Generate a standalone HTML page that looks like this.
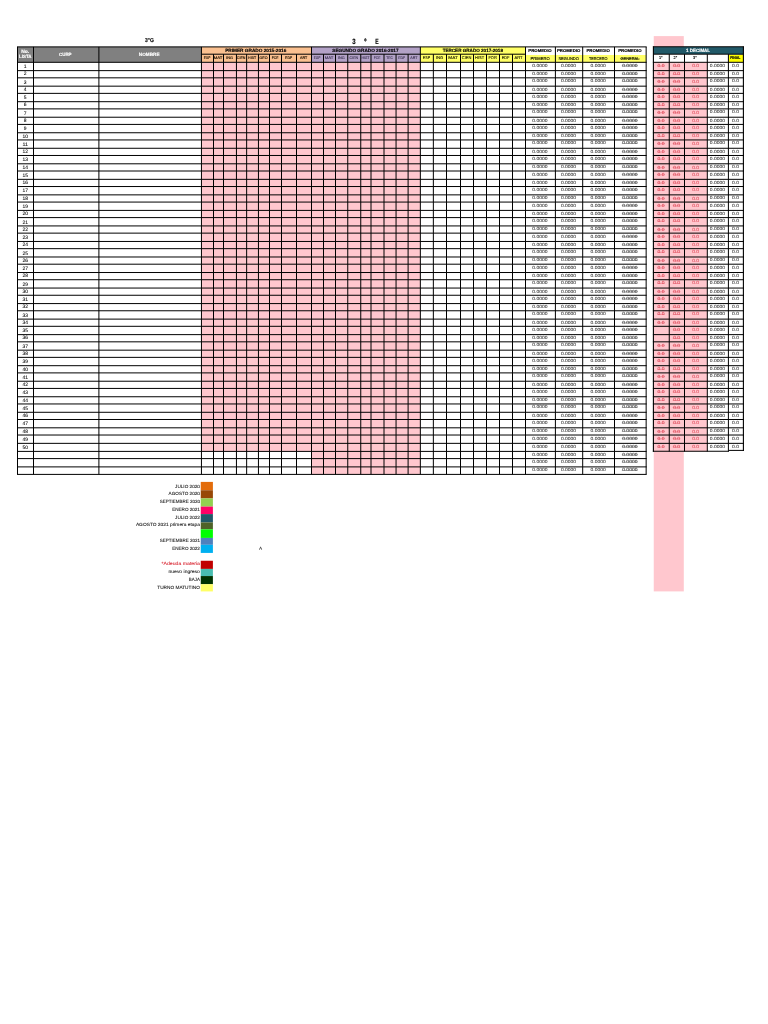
<!DOCTYPE html>
<html lang="es"><head><meta charset="utf-8"><title>3 E</title>
<style>
html,body{margin:0;padding:0;background:#fff}
body{width:768px;height:1024px;overflow:hidden}
svg{display:block}
svg text{font-family:"Liberation Sans",sans-serif;text-rendering:geometricPrecision;}
</style></head><body>
<svg width="768" height="1024" viewBox="0 0 768 1024">
<rect x="653.75" y="36.10" width="30.05" height="555.30" fill="#FFC7CE"/>
<rect x="17.50" y="46.90" width="183.95" height="15.40" fill="#808080"/>
<rect x="201.45" y="46.90" width="110.05" height="15.40" fill="#FAC090"/>
<rect x="311.50" y="46.90" width="108.85" height="15.40" fill="#B3A2C7"/>
<rect x="420.35" y="46.90" width="105.15" height="15.40" fill="#FFFF66"/>
<rect x="525.50" y="55.00" width="120.65" height="7.30" fill="#FFFF66"/>
<rect x="201.45" y="62.30" width="218.90" height="389.10" fill="#FFC7CE"/>
<rect x="311.50" y="451.40" width="108.85" height="23.00" fill="#FFC7CE"/>
<rect x="653.40" y="46.90" width="90.00" height="7.30" fill="#215968"/>
<rect x="653.40" y="54.20" width="75.00" height="8.10" fill="#fff"/>
<rect x="728.40" y="54.80" width="15.00" height="7.50" fill="#FFFF00"/>
<rect x="707.30" y="62.30" width="36.10" height="388.10" fill="#fff"/>
<rect x="653.40" y="62.30" width="53.90" height="389.10" fill="#FFC7CE"/>
<line x1="17.00" y1="62.30" x2="646.65" y2="62.30" stroke="#000" stroke-width="1.0"/>
<line x1="17.00" y1="70.63" x2="646.65" y2="70.63" stroke="#000" stroke-width="1.0"/>
<line x1="17.00" y1="77.83" x2="646.65" y2="77.83" stroke="#000" stroke-width="1.0"/>
<line x1="17.00" y1="86.16" x2="646.65" y2="86.16" stroke="#000" stroke-width="1.0"/>
<line x1="17.00" y1="93.36" x2="646.65" y2="93.36" stroke="#000" stroke-width="1.0"/>
<line x1="17.00" y1="101.69" x2="646.65" y2="101.69" stroke="#000" stroke-width="1.0"/>
<line x1="17.00" y1="108.89" x2="646.65" y2="108.89" stroke="#000" stroke-width="1.0"/>
<line x1="17.00" y1="117.22" x2="646.65" y2="117.22" stroke="#000" stroke-width="1.0"/>
<line x1="17.00" y1="124.42" x2="646.65" y2="124.42" stroke="#000" stroke-width="1.0"/>
<line x1="17.00" y1="132.75" x2="646.65" y2="132.75" stroke="#000" stroke-width="1.0"/>
<line x1="17.00" y1="139.95" x2="646.65" y2="139.95" stroke="#000" stroke-width="1.0"/>
<line x1="17.00" y1="148.28" x2="646.65" y2="148.28" stroke="#000" stroke-width="1.0"/>
<line x1="17.00" y1="155.48" x2="646.65" y2="155.48" stroke="#000" stroke-width="1.0"/>
<line x1="17.00" y1="163.81" x2="646.65" y2="163.81" stroke="#000" stroke-width="1.0"/>
<line x1="17.00" y1="171.01" x2="646.65" y2="171.01" stroke="#000" stroke-width="1.0"/>
<line x1="17.00" y1="179.34" x2="646.65" y2="179.34" stroke="#000" stroke-width="1.0"/>
<line x1="17.00" y1="186.54" x2="646.65" y2="186.54" stroke="#000" stroke-width="1.0"/>
<line x1="17.00" y1="194.87" x2="646.65" y2="194.87" stroke="#000" stroke-width="1.0"/>
<line x1="17.00" y1="202.07" x2="646.65" y2="202.07" stroke="#000" stroke-width="1.0"/>
<line x1="17.00" y1="210.40" x2="646.65" y2="210.40" stroke="#000" stroke-width="1.0"/>
<line x1="17.00" y1="217.60" x2="646.65" y2="217.60" stroke="#000" stroke-width="1.0"/>
<line x1="17.00" y1="225.93" x2="646.65" y2="225.93" stroke="#000" stroke-width="1.0"/>
<line x1="17.00" y1="233.13" x2="646.65" y2="233.13" stroke="#000" stroke-width="1.0"/>
<line x1="17.00" y1="241.46" x2="646.65" y2="241.46" stroke="#000" stroke-width="1.0"/>
<line x1="17.00" y1="248.66" x2="646.65" y2="248.66" stroke="#000" stroke-width="1.0"/>
<line x1="17.00" y1="256.99" x2="646.65" y2="256.99" stroke="#000" stroke-width="1.0"/>
<line x1="17.00" y1="264.19" x2="646.65" y2="264.19" stroke="#000" stroke-width="1.0"/>
<line x1="17.00" y1="272.52" x2="646.65" y2="272.52" stroke="#000" stroke-width="1.0"/>
<line x1="17.00" y1="279.72" x2="646.65" y2="279.72" stroke="#000" stroke-width="1.0"/>
<line x1="17.00" y1="288.05" x2="646.65" y2="288.05" stroke="#000" stroke-width="1.0"/>
<line x1="17.00" y1="295.25" x2="646.65" y2="295.25" stroke="#000" stroke-width="1.0"/>
<line x1="17.00" y1="303.58" x2="646.65" y2="303.58" stroke="#000" stroke-width="1.0"/>
<line x1="17.00" y1="310.78" x2="646.65" y2="310.78" stroke="#000" stroke-width="1.0"/>
<line x1="17.00" y1="319.11" x2="646.65" y2="319.11" stroke="#000" stroke-width="1.0"/>
<line x1="17.00" y1="326.31" x2="646.65" y2="326.31" stroke="#000" stroke-width="1.0"/>
<line x1="17.00" y1="334.64" x2="646.65" y2="334.64" stroke="#000" stroke-width="1.0"/>
<line x1="17.00" y1="341.84" x2="646.65" y2="341.84" stroke="#000" stroke-width="1.0"/>
<line x1="17.00" y1="350.17" x2="646.65" y2="350.17" stroke="#000" stroke-width="1.0"/>
<line x1="17.00" y1="357.37" x2="646.65" y2="357.37" stroke="#000" stroke-width="1.0"/>
<line x1="17.00" y1="365.70" x2="646.65" y2="365.70" stroke="#000" stroke-width="1.0"/>
<line x1="17.00" y1="372.90" x2="646.65" y2="372.90" stroke="#000" stroke-width="1.0"/>
<line x1="17.00" y1="381.23" x2="646.65" y2="381.23" stroke="#000" stroke-width="1.0"/>
<line x1="17.00" y1="388.43" x2="646.65" y2="388.43" stroke="#000" stroke-width="1.0"/>
<line x1="17.00" y1="396.76" x2="646.65" y2="396.76" stroke="#000" stroke-width="1.0"/>
<line x1="17.00" y1="403.96" x2="646.65" y2="403.96" stroke="#000" stroke-width="1.0"/>
<line x1="17.00" y1="412.29" x2="646.65" y2="412.29" stroke="#000" stroke-width="1.0"/>
<line x1="17.00" y1="419.49" x2="646.65" y2="419.49" stroke="#000" stroke-width="1.0"/>
<line x1="17.00" y1="427.82" x2="646.65" y2="427.82" stroke="#000" stroke-width="1.0"/>
<line x1="17.00" y1="435.02" x2="646.65" y2="435.02" stroke="#000" stroke-width="1.0"/>
<line x1="17.00" y1="443.35" x2="646.65" y2="443.35" stroke="#000" stroke-width="1.0"/>
<line x1="17.00" y1="451.40" x2="646.65" y2="451.40" stroke="#000" stroke-width="1.0"/>
<line x1="17.00" y1="458.60" x2="646.65" y2="458.60" stroke="#000" stroke-width="1.0"/>
<line x1="17.00" y1="466.90" x2="646.65" y2="466.90" stroke="#000" stroke-width="1.0"/>
<line x1="17.00" y1="474.40" x2="646.65" y2="474.40" stroke="#000" stroke-width="1.0"/>
<line x1="17.00" y1="46.90" x2="646.65" y2="46.90" stroke="#000" stroke-width="1.0"/>
<line x1="201.45" y1="54.20" x2="525.50" y2="54.20" stroke="#000" stroke-width="1.0"/>
<line x1="17.50" y1="46.90" x2="17.50" y2="474.40" stroke="#000" stroke-width="1.0"/>
<line x1="33.50" y1="46.90" x2="33.50" y2="474.40" stroke="#000" stroke-width="1.0"/>
<line x1="98.90" y1="46.90" x2="98.90" y2="474.40" stroke="#000" stroke-width="1.0"/>
<line x1="201.45" y1="46.90" x2="201.45" y2="474.40" stroke="#000" stroke-width="1.0"/>
<line x1="213.50" y1="54.20" x2="213.50" y2="474.40" stroke="#000" stroke-width="1.0"/>
<line x1="223.50" y1="54.20" x2="223.50" y2="474.40" stroke="#000" stroke-width="1.0"/>
<line x1="236.45" y1="54.20" x2="236.45" y2="474.40" stroke="#000" stroke-width="1.0"/>
<line x1="246.65" y1="54.20" x2="246.65" y2="474.40" stroke="#000" stroke-width="1.0"/>
<line x1="258.45" y1="54.20" x2="258.45" y2="474.40" stroke="#000" stroke-width="1.0"/>
<line x1="269.50" y1="54.20" x2="269.50" y2="474.40" stroke="#000" stroke-width="1.0"/>
<line x1="281.50" y1="54.20" x2="281.50" y2="474.40" stroke="#000" stroke-width="1.0"/>
<line x1="296.50" y1="54.20" x2="296.50" y2="474.40" stroke="#000" stroke-width="1.0"/>
<line x1="311.50" y1="46.90" x2="311.50" y2="474.40" stroke="#000" stroke-width="1.0"/>
<line x1="323.50" y1="54.20" x2="323.50" y2="474.40" stroke="#000" stroke-width="1.0"/>
<line x1="335.50" y1="54.20" x2="335.50" y2="474.40" stroke="#000" stroke-width="1.0"/>
<line x1="347.75" y1="54.20" x2="347.75" y2="474.40" stroke="#000" stroke-width="1.0"/>
<line x1="360.75" y1="54.20" x2="360.75" y2="474.40" stroke="#000" stroke-width="1.0"/>
<line x1="371.00" y1="54.20" x2="371.00" y2="474.40" stroke="#000" stroke-width="1.0"/>
<line x1="384.00" y1="54.20" x2="384.00" y2="474.40" stroke="#000" stroke-width="1.0"/>
<line x1="396.05" y1="54.20" x2="396.05" y2="474.40" stroke="#000" stroke-width="1.0"/>
<line x1="408.10" y1="54.20" x2="408.10" y2="474.40" stroke="#000" stroke-width="1.0"/>
<line x1="420.35" y1="46.90" x2="420.35" y2="474.40" stroke="#000" stroke-width="1.0"/>
<line x1="433.35" y1="54.20" x2="433.35" y2="474.40" stroke="#000" stroke-width="1.0"/>
<line x1="446.50" y1="54.20" x2="446.50" y2="474.40" stroke="#000" stroke-width="1.0"/>
<line x1="460.50" y1="54.20" x2="460.50" y2="474.40" stroke="#000" stroke-width="1.0"/>
<line x1="473.50" y1="54.20" x2="473.50" y2="474.40" stroke="#000" stroke-width="1.0"/>
<line x1="486.50" y1="54.20" x2="486.50" y2="474.40" stroke="#000" stroke-width="1.0"/>
<line x1="499.50" y1="54.20" x2="499.50" y2="474.40" stroke="#000" stroke-width="1.0"/>
<line x1="512.50" y1="54.20" x2="512.50" y2="474.40" stroke="#000" stroke-width="1.0"/>
<line x1="525.50" y1="46.90" x2="525.50" y2="474.40" stroke="#000" stroke-width="1.0"/>
<line x1="555.40" y1="46.90" x2="555.40" y2="474.40" stroke="#000" stroke-width="1.0"/>
<line x1="582.70" y1="46.90" x2="582.70" y2="474.40" stroke="#000" stroke-width="1.0"/>
<line x1="614.50" y1="46.90" x2="614.50" y2="474.40" stroke="#000" stroke-width="1.0"/>
<line x1="646.15" y1="46.90" x2="646.15" y2="474.40" stroke="#000" stroke-width="1.0"/>
<line x1="652.90" y1="62.30" x2="743.90" y2="62.30" stroke="#000" stroke-width="1.0"/>
<line x1="652.90" y1="70.63" x2="743.90" y2="70.63" stroke="#000" stroke-width="1.0"/>
<line x1="652.90" y1="77.83" x2="743.90" y2="77.83" stroke="#000" stroke-width="1.0"/>
<line x1="652.90" y1="86.16" x2="743.90" y2="86.16" stroke="#000" stroke-width="1.0"/>
<line x1="652.90" y1="93.36" x2="743.90" y2="93.36" stroke="#000" stroke-width="1.0"/>
<line x1="652.90" y1="101.69" x2="743.90" y2="101.69" stroke="#000" stroke-width="1.0"/>
<line x1="652.90" y1="108.89" x2="743.90" y2="108.89" stroke="#000" stroke-width="1.0"/>
<line x1="652.90" y1="117.22" x2="743.90" y2="117.22" stroke="#000" stroke-width="1.0"/>
<line x1="652.90" y1="124.42" x2="743.90" y2="124.42" stroke="#000" stroke-width="1.0"/>
<line x1="652.90" y1="132.75" x2="743.90" y2="132.75" stroke="#000" stroke-width="1.0"/>
<line x1="652.90" y1="139.95" x2="743.90" y2="139.95" stroke="#000" stroke-width="1.0"/>
<line x1="652.90" y1="148.28" x2="743.90" y2="148.28" stroke="#000" stroke-width="1.0"/>
<line x1="652.90" y1="155.48" x2="743.90" y2="155.48" stroke="#000" stroke-width="1.0"/>
<line x1="652.90" y1="163.81" x2="743.90" y2="163.81" stroke="#000" stroke-width="1.0"/>
<line x1="652.90" y1="171.01" x2="743.90" y2="171.01" stroke="#000" stroke-width="1.0"/>
<line x1="652.90" y1="179.34" x2="743.90" y2="179.34" stroke="#000" stroke-width="1.0"/>
<line x1="652.90" y1="186.54" x2="743.90" y2="186.54" stroke="#000" stroke-width="1.0"/>
<line x1="652.90" y1="194.87" x2="743.90" y2="194.87" stroke="#000" stroke-width="1.0"/>
<line x1="652.90" y1="202.07" x2="743.90" y2="202.07" stroke="#000" stroke-width="1.0"/>
<line x1="652.90" y1="210.40" x2="743.90" y2="210.40" stroke="#000" stroke-width="1.0"/>
<line x1="652.90" y1="217.60" x2="743.90" y2="217.60" stroke="#000" stroke-width="1.0"/>
<line x1="652.90" y1="225.93" x2="743.90" y2="225.93" stroke="#000" stroke-width="1.0"/>
<line x1="652.90" y1="233.13" x2="743.90" y2="233.13" stroke="#000" stroke-width="1.0"/>
<line x1="652.90" y1="241.46" x2="743.90" y2="241.46" stroke="#000" stroke-width="1.0"/>
<line x1="652.90" y1="248.66" x2="743.90" y2="248.66" stroke="#000" stroke-width="1.0"/>
<line x1="652.90" y1="256.99" x2="743.90" y2="256.99" stroke="#000" stroke-width="1.0"/>
<line x1="652.90" y1="264.19" x2="743.90" y2="264.19" stroke="#000" stroke-width="1.0"/>
<line x1="652.90" y1="272.52" x2="743.90" y2="272.52" stroke="#000" stroke-width="1.0"/>
<line x1="652.90" y1="279.72" x2="743.90" y2="279.72" stroke="#000" stroke-width="1.0"/>
<line x1="652.90" y1="288.05" x2="743.90" y2="288.05" stroke="#000" stroke-width="1.0"/>
<line x1="652.90" y1="295.25" x2="743.90" y2="295.25" stroke="#000" stroke-width="1.0"/>
<line x1="652.90" y1="303.58" x2="743.90" y2="303.58" stroke="#000" stroke-width="1.0"/>
<line x1="652.90" y1="310.78" x2="743.90" y2="310.78" stroke="#000" stroke-width="1.0"/>
<line x1="652.90" y1="319.11" x2="743.90" y2="319.11" stroke="#000" stroke-width="1.0"/>
<line x1="652.90" y1="326.31" x2="743.90" y2="326.31" stroke="#000" stroke-width="1.0"/>
<line x1="652.90" y1="334.64" x2="743.90" y2="334.64" stroke="#000" stroke-width="1.0"/>
<line x1="652.90" y1="341.84" x2="743.90" y2="341.84" stroke="#000" stroke-width="1.0"/>
<line x1="652.90" y1="350.17" x2="743.90" y2="350.17" stroke="#000" stroke-width="1.0"/>
<line x1="652.90" y1="357.37" x2="743.90" y2="357.37" stroke="#000" stroke-width="1.0"/>
<line x1="652.90" y1="365.70" x2="743.90" y2="365.70" stroke="#000" stroke-width="1.0"/>
<line x1="652.90" y1="372.90" x2="743.90" y2="372.90" stroke="#000" stroke-width="1.0"/>
<line x1="652.90" y1="381.23" x2="743.90" y2="381.23" stroke="#000" stroke-width="1.0"/>
<line x1="652.90" y1="388.43" x2="743.90" y2="388.43" stroke="#000" stroke-width="1.0"/>
<line x1="652.90" y1="396.76" x2="743.90" y2="396.76" stroke="#000" stroke-width="1.0"/>
<line x1="652.90" y1="403.96" x2="743.90" y2="403.96" stroke="#000" stroke-width="1.0"/>
<line x1="652.90" y1="412.29" x2="743.90" y2="412.29" stroke="#000" stroke-width="1.0"/>
<line x1="652.90" y1="419.49" x2="743.90" y2="419.49" stroke="#000" stroke-width="1.0"/>
<line x1="652.90" y1="427.82" x2="743.90" y2="427.82" stroke="#000" stroke-width="1.0"/>
<line x1="652.90" y1="435.02" x2="743.90" y2="435.02" stroke="#000" stroke-width="1.0"/>
<line x1="652.90" y1="443.35" x2="743.90" y2="443.35" stroke="#000" stroke-width="1.0"/>
<line x1="652.85" y1="451.30" x2="728.90" y2="451.30" stroke="#000" stroke-width="1.1"/>
<line x1="728.90" y1="450.40" x2="743.95" y2="450.40" stroke="#000" stroke-width="1.0"/>
<line x1="652.90" y1="46.75" x2="743.90" y2="46.75" stroke="#000" stroke-width="1.1"/>
<line x1="653.40" y1="54.20" x2="743.40" y2="54.20" stroke="#000" stroke-width="1.0"/>
<line x1="653.40" y1="46.40" x2="653.40" y2="451.80" stroke="#000" stroke-width="1.1"/>
<line x1="669.25" y1="54.20" x2="669.25" y2="451.50" stroke="#000" stroke-width="1.0"/>
<line x1="684.50" y1="54.20" x2="684.50" y2="451.50" stroke="#000" stroke-width="1.0"/>
<line x1="707.30" y1="54.20" x2="707.30" y2="451.50" stroke="#000" stroke-width="1.0"/>
<line x1="728.40" y1="54.20" x2="728.40" y2="451.50" stroke="#000" stroke-width="1.0"/>
<line x1="743.40" y1="46.40" x2="743.40" y2="450.90" stroke="#000" stroke-width="1.1"/>
<text x="149.45" y="42.10" font-size="5.8" font-weight="700" fill="#000" text-anchor="middle" textLength="8.70" lengthAdjust="spacingAndGlyphs" stroke="#000" stroke-width="0.15">3°G</text>
<text x="353.95" y="43.50" font-size="7.7" font-weight="700" fill="#000" text-anchor="middle" textLength="3.40" lengthAdjust="spacingAndGlyphs" stroke="#000" stroke-width="0.15">3</text>
<text x="365.50" y="44.90" font-size="9.4" font-weight="700" fill="#000" text-anchor="middle" textLength="2.30" lengthAdjust="spacingAndGlyphs" stroke="#000" stroke-width="0.4">°</text>
<text x="376.95" y="43.50" font-size="7.7" font-weight="700" fill="#000" text-anchor="middle" textLength="3.40" lengthAdjust="spacingAndGlyphs" stroke="#000" stroke-width="0.15">E</text>
<text x="25.20" y="52.70" font-size="4.62" font-weight="700" fill="#fff" text-anchor="middle" textLength="7.98" lengthAdjust="spacingAndGlyphs" stroke="#fff" stroke-width="0.15">No.</text>
<text x="25.30" y="57.90" font-size="4.62" font-weight="700" fill="#fff" text-anchor="middle" textLength="12.35" lengthAdjust="spacingAndGlyphs" stroke="#fff" stroke-width="0.15">LISTA</text>
<text x="65.30" y="56.00" font-size="4.62" font-weight="700" fill="#fff" text-anchor="middle" textLength="12.42" lengthAdjust="spacingAndGlyphs" stroke="#fff" stroke-width="0.15">CURP</text>
<text x="149.20" y="56.00" font-size="4.62" font-weight="700" fill="#fff" text-anchor="middle" textLength="20.85" lengthAdjust="spacingAndGlyphs" stroke="#fff" stroke-width="0.15">NOMBRE</text>
<text x="255.75" y="51.90" font-size="4.62" font-weight="700" fill="#000" text-anchor="middle" textLength="61.18" lengthAdjust="spacingAndGlyphs" stroke="#000" stroke-width="0.15">PRIMER GRADO 2015-2016</text>
<text x="365.45" y="51.90" font-size="4.62" font-weight="700" fill="#000" text-anchor="middle" textLength="66.25" lengthAdjust="spacingAndGlyphs" stroke="#000" stroke-width="0.15">SEGUNDO GRADO 2016-2017</text>
<text x="472.80" y="51.90" font-size="4.62" font-weight="700" fill="#000" text-anchor="middle" textLength="60.30" lengthAdjust="spacingAndGlyphs" stroke="#000" stroke-width="0.15">TERCER GRADO 2017-2018</text>
<text x="207.07" y="58.90" font-size="3.78" fill="#2a1a08" text-anchor="middle" textLength="6.54" lengthAdjust="spacingAndGlyphs" stroke="#2a1a08" stroke-width="0.18">ESP</text>
<text x="218.10" y="58.90" font-size="3.78" fill="#2a1a08" text-anchor="middle" textLength="8.58" lengthAdjust="spacingAndGlyphs" stroke="#2a1a08" stroke-width="0.18">MAT</text>
<text x="229.57" y="58.90" font-size="3.78" fill="#2a1a08" text-anchor="middle" textLength="6.83" lengthAdjust="spacingAndGlyphs" stroke="#2a1a08" stroke-width="0.18">ING</text>
<text x="241.15" y="58.90" font-size="3.78" fill="#2a1a08" text-anchor="middle" textLength="8.57" lengthAdjust="spacingAndGlyphs" stroke="#2a1a08" stroke-width="0.18">CIEN</text>
<text x="252.15" y="58.90" font-size="3.78" fill="#2a1a08" text-anchor="middle" textLength="8.13" lengthAdjust="spacingAndGlyphs" stroke="#2a1a08" stroke-width="0.18">HIST</text>
<text x="263.58" y="58.90" font-size="3.78" fill="#2a1a08" text-anchor="middle" textLength="7.95" lengthAdjust="spacingAndGlyphs" stroke="#2a1a08" stroke-width="0.18">GEO</text>
<text x="275.10" y="58.90" font-size="3.78" fill="#2a1a08" text-anchor="middle" textLength="6.61" lengthAdjust="spacingAndGlyphs" stroke="#2a1a08" stroke-width="0.18">FCE</text>
<text x="288.60" y="58.90" font-size="3.78" fill="#2a1a08" text-anchor="middle" textLength="6.97" lengthAdjust="spacingAndGlyphs" stroke="#2a1a08" stroke-width="0.18">EDF</text>
<text x="303.60" y="58.90" font-size="3.78" fill="#2a1a08" text-anchor="middle" textLength="7.18" lengthAdjust="spacingAndGlyphs" stroke="#2a1a08" stroke-width="0.18">ART</text>
<text x="317.10" y="58.90" font-size="3.78" fill="#3a3050" text-anchor="middle" textLength="6.54" lengthAdjust="spacingAndGlyphs" stroke="#3a3050" stroke-width="0.1">ESP</text>
<text x="329.10" y="58.90" font-size="3.78" fill="#3a3050" text-anchor="middle" textLength="8.58" lengthAdjust="spacingAndGlyphs" stroke="#3a3050" stroke-width="0.1">MAT</text>
<text x="341.23" y="58.90" font-size="3.78" fill="#3a3050" text-anchor="middle" textLength="6.83" lengthAdjust="spacingAndGlyphs" stroke="#3a3050" stroke-width="0.1">ING</text>
<text x="353.85" y="58.90" font-size="3.78" fill="#3a3050" text-anchor="middle" textLength="8.57" lengthAdjust="spacingAndGlyphs" stroke="#3a3050" stroke-width="0.1">CIEN</text>
<text x="365.48" y="58.90" font-size="3.78" fill="#3a3050" text-anchor="middle" textLength="8.13" lengthAdjust="spacingAndGlyphs" stroke="#3a3050" stroke-width="0.1">HIST</text>
<text x="377.10" y="58.90" font-size="3.78" fill="#3a3050" text-anchor="middle" textLength="6.61" lengthAdjust="spacingAndGlyphs" stroke="#3a3050" stroke-width="0.1">FCE</text>
<text x="389.62" y="58.90" font-size="3.78" fill="#3a3050" text-anchor="middle" textLength="6.73" lengthAdjust="spacingAndGlyphs" stroke="#3a3050" stroke-width="0.1">TEC</text>
<text x="401.68" y="58.90" font-size="3.78" fill="#3a3050" text-anchor="middle" textLength="6.97" lengthAdjust="spacingAndGlyphs" stroke="#3a3050" stroke-width="0.1">EDF</text>
<text x="413.83" y="58.90" font-size="3.78" fill="#3a3050" text-anchor="middle" textLength="7.18" lengthAdjust="spacingAndGlyphs" stroke="#3a3050" stroke-width="0.1">ART</text>
<text x="426.45" y="58.60" font-size="4.2" fill="#262600" text-anchor="middle" textLength="7.26" lengthAdjust="spacingAndGlyphs" stroke="#262600" stroke-width="0.12">ESP</text>
<text x="439.53" y="58.60" font-size="4.2" fill="#262600" text-anchor="middle" textLength="7.58" lengthAdjust="spacingAndGlyphs" stroke="#262600" stroke-width="0.12">ING</text>
<text x="453.10" y="58.60" font-size="4.2" fill="#262600" text-anchor="middle" textLength="9.53" lengthAdjust="spacingAndGlyphs" stroke="#262600" stroke-width="0.12">MAT</text>
<text x="466.60" y="58.60" font-size="4.2" fill="#262600" text-anchor="middle" textLength="9.52" lengthAdjust="spacingAndGlyphs" stroke="#262600" stroke-width="0.12">CIEN</text>
<text x="479.60" y="58.60" font-size="4.2" fill="#262600" text-anchor="middle" textLength="9.03" lengthAdjust="spacingAndGlyphs" stroke="#262600" stroke-width="0.12">HIST</text>
<text x="492.60" y="58.60" font-size="4.2" fill="#262600" text-anchor="middle" textLength="8.25" lengthAdjust="spacingAndGlyphs" stroke="#262600" stroke-width="0.12">FOR</text>
<text x="505.60" y="58.60" font-size="4.2" fill="#262600" text-anchor="middle" textLength="7.75" lengthAdjust="spacingAndGlyphs" stroke="#262600" stroke-width="0.12">EDF</text>
<text x="518.60" y="58.60" font-size="4.2" fill="#262600" text-anchor="middle" textLength="7.98" lengthAdjust="spacingAndGlyphs" stroke="#262600" stroke-width="0.12">ART</text>
<text x="540.05" y="51.90" font-size="4.2" font-weight="700" fill="#000" text-anchor="middle" textLength="23.34" lengthAdjust="spacingAndGlyphs" stroke="#000" stroke-width="0.15">PROMEDIO</text>
<text x="540.05" y="59.60" font-size="4.2" fill="#1a1a00" text-anchor="middle" textLength="19.15" lengthAdjust="spacingAndGlyphs" stroke="#1a1a00" stroke-width="0.15">PRIMERO</text>
<text x="568.65" y="51.90" font-size="4.2" font-weight="700" fill="#000" text-anchor="middle" textLength="23.34" lengthAdjust="spacingAndGlyphs" stroke="#000" stroke-width="0.15">PROMEDIO</text>
<text x="568.65" y="59.60" font-size="4.2" fill="#1a1a00" text-anchor="middle" textLength="20.55" lengthAdjust="spacingAndGlyphs" stroke="#1a1a00" stroke-width="0.15">SEGUNDO</text>
<text x="598.20" y="51.90" font-size="4.2" font-weight="700" fill="#000" text-anchor="middle" textLength="23.34" lengthAdjust="spacingAndGlyphs" stroke="#000" stroke-width="0.15">PROMEDIO</text>
<text x="598.20" y="59.60" font-size="4.2" fill="#1a1a00" text-anchor="middle" textLength="18.57" lengthAdjust="spacingAndGlyphs" stroke="#1a1a00" stroke-width="0.15">TERCERO</text>
<text x="629.93" y="51.90" font-size="4.2" font-weight="700" fill="#000" text-anchor="middle" textLength="23.34" lengthAdjust="spacingAndGlyphs" stroke="#000" stroke-width="0.15">PROMEDIO</text>
<text x="629.93" y="59.60" font-size="4.2" fill="#1a1a00" text-anchor="middle" textLength="18.82" lengthAdjust="spacingAndGlyphs" stroke="#1a1a00" stroke-width="0.15">GENERAL</text>
<line x1="620.06" y1="58.59" x2="639.79" y2="58.59" stroke="#1a1a00" stroke-width="0.32"/>
<text x="698.05" y="51.80" font-size="4.62" font-weight="700" fill="#fff" text-anchor="middle" textLength="23.90" lengthAdjust="spacingAndGlyphs" stroke="#fff" stroke-width="0.15">1 DECIMAL</text>
<text x="660.75" y="59.00" font-size="4.2" fill="#000" text-anchor="middle" textLength="3.70" lengthAdjust="spacingAndGlyphs" stroke="#000" stroke-width="0.15">1°</text>
<text x="675.40" y="59.00" font-size="4.2" fill="#000" text-anchor="middle" textLength="3.70" lengthAdjust="spacingAndGlyphs" stroke="#000" stroke-width="0.15">2°</text>
<text x="694.90" y="59.00" font-size="4.2" fill="#000" text-anchor="middle" textLength="3.70" lengthAdjust="spacingAndGlyphs" stroke="#000" stroke-width="0.15">3°</text>
<text x="735.30" y="58.90" font-size="3.9" font-weight="700" fill="#000" text-anchor="middle" textLength="10.18" lengthAdjust="spacingAndGlyphs" stroke="#000" stroke-width="0.15">FINAL</text>
<text x="25.20" y="68.23" font-size="4.9" fill="#000" text-anchor="middle" textLength="2.77" lengthAdjust="spacingAndGlyphs" stroke="#000" stroke-width="0.06">1</text>
<text x="539.95" y="66.80" font-size="4.6" fill="#0a0a0a" text-anchor="middle" textLength="15.21" lengthAdjust="spacingAndGlyphs">0.0000</text>
<text x="568.55" y="66.80" font-size="4.6" fill="#0a0a0a" text-anchor="middle" textLength="15.21" lengthAdjust="spacingAndGlyphs">0.0000</text>
<text x="598.10" y="66.80" font-size="4.6" fill="#0a0a0a" text-anchor="middle" textLength="15.21" lengthAdjust="spacingAndGlyphs">0.0000</text>
<text x="629.83" y="66.80" font-size="4.6" fill="#0a0a0a" text-anchor="middle" textLength="15.21" lengthAdjust="spacingAndGlyphs">0.0000</text>
<line x1="621.77" y1="65.70" x2="637.88" y2="65.70" stroke="#444" stroke-width="0.32"/>
<text x="661.03" y="67.00" font-size="4.6" fill="#d83042" text-anchor="middle" textLength="6.91" lengthAdjust="spacingAndGlyphs">0.0</text>
<line x1="657.12" y1="65.90" x2="664.93" y2="65.90" stroke="#d83042" stroke-width="0.32"/>
<text x="676.58" y="67.00" font-size="4.6" fill="#d83042" text-anchor="middle" textLength="6.91" lengthAdjust="spacingAndGlyphs">0.0</text>
<line x1="672.67" y1="65.90" x2="680.48" y2="65.90" stroke="#d83042" stroke-width="0.32"/>
<text x="695.60" y="67.00" font-size="4.6" fill="#d83042" text-anchor="middle" textLength="6.91" lengthAdjust="spacingAndGlyphs">0.0</text>
<text x="717.45" y="66.80" font-size="4.6" fill="#0a0a0a" text-anchor="middle" textLength="15.21" lengthAdjust="spacingAndGlyphs">0.0000</text>
<text x="735.50" y="66.80" font-size="4.6" fill="#0a0a0a" text-anchor="middle" textLength="6.91" lengthAdjust="spacingAndGlyphs">0.0</text>
<text x="25.20" y="75.43" font-size="4.9" fill="#000" text-anchor="middle" textLength="2.77" lengthAdjust="spacingAndGlyphs" stroke="#000" stroke-width="0.06">2</text>
<text x="539.95" y="75.13" font-size="4.6" fill="#0a0a0a" text-anchor="middle" textLength="15.21" lengthAdjust="spacingAndGlyphs">0.0000</text>
<text x="568.55" y="75.13" font-size="4.6" fill="#0a0a0a" text-anchor="middle" textLength="15.21" lengthAdjust="spacingAndGlyphs">0.0000</text>
<text x="598.10" y="75.13" font-size="4.6" fill="#0a0a0a" text-anchor="middle" textLength="15.21" lengthAdjust="spacingAndGlyphs">0.0000</text>
<text x="629.83" y="75.13" font-size="4.6" fill="#0a0a0a" text-anchor="middle" textLength="15.21" lengthAdjust="spacingAndGlyphs">0.0000</text>
<line x1="621.77" y1="74.03" x2="637.88" y2="74.03" stroke="#444" stroke-width="0.32"/>
<text x="661.03" y="75.33" font-size="4.6" fill="#d83042" text-anchor="middle" textLength="6.91" lengthAdjust="spacingAndGlyphs">0.0</text>
<line x1="657.12" y1="74.23" x2="664.93" y2="74.23" stroke="#d83042" stroke-width="0.32"/>
<text x="676.58" y="75.33" font-size="4.6" fill="#d83042" text-anchor="middle" textLength="6.91" lengthAdjust="spacingAndGlyphs">0.0</text>
<line x1="672.67" y1="74.23" x2="680.48" y2="74.23" stroke="#d83042" stroke-width="0.32"/>
<text x="695.60" y="75.33" font-size="4.6" fill="#d83042" text-anchor="middle" textLength="6.91" lengthAdjust="spacingAndGlyphs">0.0</text>
<text x="717.45" y="75.13" font-size="4.6" fill="#0a0a0a" text-anchor="middle" textLength="15.21" lengthAdjust="spacingAndGlyphs">0.0000</text>
<text x="735.50" y="75.13" font-size="4.6" fill="#0a0a0a" text-anchor="middle" textLength="6.91" lengthAdjust="spacingAndGlyphs">0.0</text>
<text x="25.20" y="83.76" font-size="4.9" fill="#000" text-anchor="middle" textLength="2.77" lengthAdjust="spacingAndGlyphs" stroke="#000" stroke-width="0.06">3</text>
<text x="539.95" y="82.33" font-size="4.6" fill="#0a0a0a" text-anchor="middle" textLength="15.21" lengthAdjust="spacingAndGlyphs">0.0000</text>
<text x="568.55" y="82.33" font-size="4.6" fill="#0a0a0a" text-anchor="middle" textLength="15.21" lengthAdjust="spacingAndGlyphs">0.0000</text>
<text x="598.10" y="82.33" font-size="4.6" fill="#0a0a0a" text-anchor="middle" textLength="15.21" lengthAdjust="spacingAndGlyphs">0.0000</text>
<text x="629.83" y="82.33" font-size="4.6" fill="#0a0a0a" text-anchor="middle" textLength="15.21" lengthAdjust="spacingAndGlyphs">0.0000</text>
<line x1="621.77" y1="81.23" x2="637.88" y2="81.23" stroke="#444" stroke-width="0.32"/>
<text x="661.03" y="82.53" font-size="4.6" fill="#d83042" text-anchor="middle" textLength="6.91" lengthAdjust="spacingAndGlyphs">0.0</text>
<line x1="657.12" y1="81.43" x2="664.93" y2="81.43" stroke="#d83042" stroke-width="0.32"/>
<text x="676.58" y="82.53" font-size="4.6" fill="#d83042" text-anchor="middle" textLength="6.91" lengthAdjust="spacingAndGlyphs">0.0</text>
<line x1="672.67" y1="81.43" x2="680.48" y2="81.43" stroke="#d83042" stroke-width="0.32"/>
<text x="695.60" y="82.53" font-size="4.6" fill="#d83042" text-anchor="middle" textLength="6.91" lengthAdjust="spacingAndGlyphs">0.0</text>
<text x="717.45" y="82.33" font-size="4.6" fill="#0a0a0a" text-anchor="middle" textLength="15.21" lengthAdjust="spacingAndGlyphs">0.0000</text>
<text x="735.50" y="82.33" font-size="4.6" fill="#0a0a0a" text-anchor="middle" textLength="6.91" lengthAdjust="spacingAndGlyphs">0.0</text>
<text x="25.20" y="90.96" font-size="4.9" fill="#000" text-anchor="middle" textLength="2.77" lengthAdjust="spacingAndGlyphs" stroke="#000" stroke-width="0.06">4</text>
<text x="539.95" y="90.66" font-size="4.6" fill="#0a0a0a" text-anchor="middle" textLength="15.21" lengthAdjust="spacingAndGlyphs">0.0000</text>
<text x="568.55" y="90.66" font-size="4.6" fill="#0a0a0a" text-anchor="middle" textLength="15.21" lengthAdjust="spacingAndGlyphs">0.0000</text>
<text x="598.10" y="90.66" font-size="4.6" fill="#0a0a0a" text-anchor="middle" textLength="15.21" lengthAdjust="spacingAndGlyphs">0.0000</text>
<text x="629.83" y="90.66" font-size="4.6" fill="#0a0a0a" text-anchor="middle" textLength="15.21" lengthAdjust="spacingAndGlyphs">0.0000</text>
<line x1="621.77" y1="89.56" x2="637.88" y2="89.56" stroke="#444" stroke-width="0.32"/>
<text x="661.03" y="90.86" font-size="4.6" fill="#d83042" text-anchor="middle" textLength="6.91" lengthAdjust="spacingAndGlyphs">0.0</text>
<line x1="657.12" y1="89.76" x2="664.93" y2="89.76" stroke="#d83042" stroke-width="0.32"/>
<text x="676.58" y="90.86" font-size="4.6" fill="#d83042" text-anchor="middle" textLength="6.91" lengthAdjust="spacingAndGlyphs">0.0</text>
<line x1="672.67" y1="89.76" x2="680.48" y2="89.76" stroke="#d83042" stroke-width="0.32"/>
<text x="695.60" y="90.86" font-size="4.6" fill="#d83042" text-anchor="middle" textLength="6.91" lengthAdjust="spacingAndGlyphs">0.0</text>
<text x="717.45" y="90.66" font-size="4.6" fill="#0a0a0a" text-anchor="middle" textLength="15.21" lengthAdjust="spacingAndGlyphs">0.0000</text>
<text x="735.50" y="90.66" font-size="4.6" fill="#0a0a0a" text-anchor="middle" textLength="6.91" lengthAdjust="spacingAndGlyphs">0.0</text>
<text x="25.20" y="99.29" font-size="4.9" fill="#000" text-anchor="middle" textLength="2.77" lengthAdjust="spacingAndGlyphs" stroke="#000" stroke-width="0.06">5</text>
<text x="539.95" y="97.86" font-size="4.6" fill="#0a0a0a" text-anchor="middle" textLength="15.21" lengthAdjust="spacingAndGlyphs">0.0000</text>
<text x="568.55" y="97.86" font-size="4.6" fill="#0a0a0a" text-anchor="middle" textLength="15.21" lengthAdjust="spacingAndGlyphs">0.0000</text>
<text x="598.10" y="97.86" font-size="4.6" fill="#0a0a0a" text-anchor="middle" textLength="15.21" lengthAdjust="spacingAndGlyphs">0.0000</text>
<text x="629.83" y="97.86" font-size="4.6" fill="#0a0a0a" text-anchor="middle" textLength="15.21" lengthAdjust="spacingAndGlyphs">0.0000</text>
<line x1="621.77" y1="96.76" x2="637.88" y2="96.76" stroke="#444" stroke-width="0.32"/>
<text x="661.03" y="98.06" font-size="4.6" fill="#d83042" text-anchor="middle" textLength="6.91" lengthAdjust="spacingAndGlyphs">0.0</text>
<line x1="657.12" y1="96.96" x2="664.93" y2="96.96" stroke="#d83042" stroke-width="0.32"/>
<text x="676.58" y="98.06" font-size="4.6" fill="#d83042" text-anchor="middle" textLength="6.91" lengthAdjust="spacingAndGlyphs">0.0</text>
<line x1="672.67" y1="96.96" x2="680.48" y2="96.96" stroke="#d83042" stroke-width="0.32"/>
<text x="695.60" y="98.06" font-size="4.6" fill="#d83042" text-anchor="middle" textLength="6.91" lengthAdjust="spacingAndGlyphs">0.0</text>
<text x="717.45" y="97.86" font-size="4.6" fill="#0a0a0a" text-anchor="middle" textLength="15.21" lengthAdjust="spacingAndGlyphs">0.0000</text>
<text x="735.50" y="97.86" font-size="4.6" fill="#0a0a0a" text-anchor="middle" textLength="6.91" lengthAdjust="spacingAndGlyphs">0.0</text>
<text x="25.20" y="106.49" font-size="4.9" fill="#000" text-anchor="middle" textLength="2.77" lengthAdjust="spacingAndGlyphs" stroke="#000" stroke-width="0.06">6</text>
<text x="539.95" y="106.19" font-size="4.6" fill="#0a0a0a" text-anchor="middle" textLength="15.21" lengthAdjust="spacingAndGlyphs">0.0000</text>
<text x="568.55" y="106.19" font-size="4.6" fill="#0a0a0a" text-anchor="middle" textLength="15.21" lengthAdjust="spacingAndGlyphs">0.0000</text>
<text x="598.10" y="106.19" font-size="4.6" fill="#0a0a0a" text-anchor="middle" textLength="15.21" lengthAdjust="spacingAndGlyphs">0.0000</text>
<text x="629.83" y="106.19" font-size="4.6" fill="#0a0a0a" text-anchor="middle" textLength="15.21" lengthAdjust="spacingAndGlyphs">0.0000</text>
<line x1="621.77" y1="105.09" x2="637.88" y2="105.09" stroke="#444" stroke-width="0.32"/>
<text x="661.03" y="106.39" font-size="4.6" fill="#d83042" text-anchor="middle" textLength="6.91" lengthAdjust="spacingAndGlyphs">0.0</text>
<line x1="657.12" y1="105.29" x2="664.93" y2="105.29" stroke="#d83042" stroke-width="0.32"/>
<text x="676.58" y="106.39" font-size="4.6" fill="#d83042" text-anchor="middle" textLength="6.91" lengthAdjust="spacingAndGlyphs">0.0</text>
<line x1="672.67" y1="105.29" x2="680.48" y2="105.29" stroke="#d83042" stroke-width="0.32"/>
<text x="695.60" y="106.39" font-size="4.6" fill="#d83042" text-anchor="middle" textLength="6.91" lengthAdjust="spacingAndGlyphs">0.0</text>
<text x="717.45" y="106.19" font-size="4.6" fill="#0a0a0a" text-anchor="middle" textLength="15.21" lengthAdjust="spacingAndGlyphs">0.0000</text>
<text x="735.50" y="106.19" font-size="4.6" fill="#0a0a0a" text-anchor="middle" textLength="6.91" lengthAdjust="spacingAndGlyphs">0.0</text>
<text x="25.20" y="114.82" font-size="4.9" fill="#000" text-anchor="middle" textLength="2.77" lengthAdjust="spacingAndGlyphs" stroke="#000" stroke-width="0.06">7</text>
<text x="539.95" y="113.39" font-size="4.6" fill="#0a0a0a" text-anchor="middle" textLength="15.21" lengthAdjust="spacingAndGlyphs">0.0000</text>
<text x="568.55" y="113.39" font-size="4.6" fill="#0a0a0a" text-anchor="middle" textLength="15.21" lengthAdjust="spacingAndGlyphs">0.0000</text>
<text x="598.10" y="113.39" font-size="4.6" fill="#0a0a0a" text-anchor="middle" textLength="15.21" lengthAdjust="spacingAndGlyphs">0.0000</text>
<text x="629.83" y="113.39" font-size="4.6" fill="#0a0a0a" text-anchor="middle" textLength="15.21" lengthAdjust="spacingAndGlyphs">0.0000</text>
<line x1="621.77" y1="112.29" x2="637.88" y2="112.29" stroke="#444" stroke-width="0.32"/>
<text x="661.03" y="113.59" font-size="4.6" fill="#d83042" text-anchor="middle" textLength="6.91" lengthAdjust="spacingAndGlyphs">0.0</text>
<line x1="657.12" y1="112.49" x2="664.93" y2="112.49" stroke="#d83042" stroke-width="0.32"/>
<text x="676.58" y="113.59" font-size="4.6" fill="#d83042" text-anchor="middle" textLength="6.91" lengthAdjust="spacingAndGlyphs">0.0</text>
<line x1="672.67" y1="112.49" x2="680.48" y2="112.49" stroke="#d83042" stroke-width="0.32"/>
<text x="695.60" y="113.59" font-size="4.6" fill="#d83042" text-anchor="middle" textLength="6.91" lengthAdjust="spacingAndGlyphs">0.0</text>
<text x="717.45" y="113.39" font-size="4.6" fill="#0a0a0a" text-anchor="middle" textLength="15.21" lengthAdjust="spacingAndGlyphs">0.0000</text>
<text x="735.50" y="113.39" font-size="4.6" fill="#0a0a0a" text-anchor="middle" textLength="6.91" lengthAdjust="spacingAndGlyphs">0.0</text>
<text x="25.20" y="122.02" font-size="4.9" fill="#000" text-anchor="middle" textLength="2.77" lengthAdjust="spacingAndGlyphs" stroke="#000" stroke-width="0.06">8</text>
<text x="539.95" y="121.72" font-size="4.6" fill="#0a0a0a" text-anchor="middle" textLength="15.21" lengthAdjust="spacingAndGlyphs">0.0000</text>
<text x="568.55" y="121.72" font-size="4.6" fill="#0a0a0a" text-anchor="middle" textLength="15.21" lengthAdjust="spacingAndGlyphs">0.0000</text>
<text x="598.10" y="121.72" font-size="4.6" fill="#0a0a0a" text-anchor="middle" textLength="15.21" lengthAdjust="spacingAndGlyphs">0.0000</text>
<text x="629.83" y="121.72" font-size="4.6" fill="#0a0a0a" text-anchor="middle" textLength="15.21" lengthAdjust="spacingAndGlyphs">0.0000</text>
<line x1="621.77" y1="120.62" x2="637.88" y2="120.62" stroke="#444" stroke-width="0.32"/>
<text x="661.03" y="121.92" font-size="4.6" fill="#d83042" text-anchor="middle" textLength="6.91" lengthAdjust="spacingAndGlyphs">0.0</text>
<line x1="657.12" y1="120.82" x2="664.93" y2="120.82" stroke="#d83042" stroke-width="0.32"/>
<text x="676.58" y="121.92" font-size="4.6" fill="#d83042" text-anchor="middle" textLength="6.91" lengthAdjust="spacingAndGlyphs">0.0</text>
<line x1="672.67" y1="120.82" x2="680.48" y2="120.82" stroke="#d83042" stroke-width="0.32"/>
<text x="695.60" y="121.92" font-size="4.6" fill="#d83042" text-anchor="middle" textLength="6.91" lengthAdjust="spacingAndGlyphs">0.0</text>
<text x="717.45" y="121.72" font-size="4.6" fill="#0a0a0a" text-anchor="middle" textLength="15.21" lengthAdjust="spacingAndGlyphs">0.0000</text>
<text x="735.50" y="121.72" font-size="4.6" fill="#0a0a0a" text-anchor="middle" textLength="6.91" lengthAdjust="spacingAndGlyphs">0.0</text>
<text x="25.20" y="130.35" font-size="4.9" fill="#000" text-anchor="middle" textLength="2.77" lengthAdjust="spacingAndGlyphs" stroke="#000" stroke-width="0.06">9</text>
<text x="539.95" y="128.92" font-size="4.6" fill="#0a0a0a" text-anchor="middle" textLength="15.21" lengthAdjust="spacingAndGlyphs">0.0000</text>
<text x="568.55" y="128.92" font-size="4.6" fill="#0a0a0a" text-anchor="middle" textLength="15.21" lengthAdjust="spacingAndGlyphs">0.0000</text>
<text x="598.10" y="128.92" font-size="4.6" fill="#0a0a0a" text-anchor="middle" textLength="15.21" lengthAdjust="spacingAndGlyphs">0.0000</text>
<text x="629.83" y="128.92" font-size="4.6" fill="#0a0a0a" text-anchor="middle" textLength="15.21" lengthAdjust="spacingAndGlyphs">0.0000</text>
<line x1="621.77" y1="127.82" x2="637.88" y2="127.82" stroke="#444" stroke-width="0.32"/>
<text x="661.03" y="129.12" font-size="4.6" fill="#d83042" text-anchor="middle" textLength="6.91" lengthAdjust="spacingAndGlyphs">0.0</text>
<line x1="657.12" y1="128.02" x2="664.93" y2="128.02" stroke="#d83042" stroke-width="0.32"/>
<text x="676.58" y="129.12" font-size="4.6" fill="#d83042" text-anchor="middle" textLength="6.91" lengthAdjust="spacingAndGlyphs">0.0</text>
<line x1="672.67" y1="128.02" x2="680.48" y2="128.02" stroke="#d83042" stroke-width="0.32"/>
<text x="695.60" y="129.12" font-size="4.6" fill="#d83042" text-anchor="middle" textLength="6.91" lengthAdjust="spacingAndGlyphs">0.0</text>
<text x="717.45" y="128.92" font-size="4.6" fill="#0a0a0a" text-anchor="middle" textLength="15.21" lengthAdjust="spacingAndGlyphs">0.0000</text>
<text x="735.50" y="128.92" font-size="4.6" fill="#0a0a0a" text-anchor="middle" textLength="6.91" lengthAdjust="spacingAndGlyphs">0.0</text>
<text x="25.20" y="137.55" font-size="4.9" fill="#000" text-anchor="middle" textLength="5.53" lengthAdjust="spacingAndGlyphs" stroke="#000" stroke-width="0.06">10</text>
<text x="539.95" y="137.25" font-size="4.6" fill="#0a0a0a" text-anchor="middle" textLength="15.21" lengthAdjust="spacingAndGlyphs">0.0000</text>
<text x="568.55" y="137.25" font-size="4.6" fill="#0a0a0a" text-anchor="middle" textLength="15.21" lengthAdjust="spacingAndGlyphs">0.0000</text>
<text x="598.10" y="137.25" font-size="4.6" fill="#0a0a0a" text-anchor="middle" textLength="15.21" lengthAdjust="spacingAndGlyphs">0.0000</text>
<text x="629.83" y="137.25" font-size="4.6" fill="#0a0a0a" text-anchor="middle" textLength="15.21" lengthAdjust="spacingAndGlyphs">0.0000</text>
<line x1="621.77" y1="136.15" x2="637.88" y2="136.15" stroke="#444" stroke-width="0.32"/>
<text x="661.03" y="137.45" font-size="4.6" fill="#d83042" text-anchor="middle" textLength="6.91" lengthAdjust="spacingAndGlyphs">0.0</text>
<line x1="657.12" y1="136.35" x2="664.93" y2="136.35" stroke="#d83042" stroke-width="0.32"/>
<text x="676.58" y="137.45" font-size="4.6" fill="#d83042" text-anchor="middle" textLength="6.91" lengthAdjust="spacingAndGlyphs">0.0</text>
<line x1="672.67" y1="136.35" x2="680.48" y2="136.35" stroke="#d83042" stroke-width="0.32"/>
<text x="695.60" y="137.45" font-size="4.6" fill="#d83042" text-anchor="middle" textLength="6.91" lengthAdjust="spacingAndGlyphs">0.0</text>
<text x="717.45" y="137.25" font-size="4.6" fill="#0a0a0a" text-anchor="middle" textLength="15.21" lengthAdjust="spacingAndGlyphs">0.0000</text>
<text x="735.50" y="137.25" font-size="4.6" fill="#0a0a0a" text-anchor="middle" textLength="6.91" lengthAdjust="spacingAndGlyphs">0.0</text>
<text x="25.20" y="145.88" font-size="4.9" fill="#000" text-anchor="middle" textLength="5.53" lengthAdjust="spacingAndGlyphs" stroke="#000" stroke-width="0.06">11</text>
<text x="539.95" y="144.45" font-size="4.6" fill="#0a0a0a" text-anchor="middle" textLength="15.21" lengthAdjust="spacingAndGlyphs">0.0000</text>
<text x="568.55" y="144.45" font-size="4.6" fill="#0a0a0a" text-anchor="middle" textLength="15.21" lengthAdjust="spacingAndGlyphs">0.0000</text>
<text x="598.10" y="144.45" font-size="4.6" fill="#0a0a0a" text-anchor="middle" textLength="15.21" lengthAdjust="spacingAndGlyphs">0.0000</text>
<text x="629.83" y="144.45" font-size="4.6" fill="#0a0a0a" text-anchor="middle" textLength="15.21" lengthAdjust="spacingAndGlyphs">0.0000</text>
<line x1="621.77" y1="143.35" x2="637.88" y2="143.35" stroke="#444" stroke-width="0.32"/>
<text x="661.03" y="144.65" font-size="4.6" fill="#d83042" text-anchor="middle" textLength="6.91" lengthAdjust="spacingAndGlyphs">0.0</text>
<line x1="657.12" y1="143.55" x2="664.93" y2="143.55" stroke="#d83042" stroke-width="0.32"/>
<text x="676.58" y="144.65" font-size="4.6" fill="#d83042" text-anchor="middle" textLength="6.91" lengthAdjust="spacingAndGlyphs">0.0</text>
<line x1="672.67" y1="143.55" x2="680.48" y2="143.55" stroke="#d83042" stroke-width="0.32"/>
<text x="695.60" y="144.65" font-size="4.6" fill="#d83042" text-anchor="middle" textLength="6.91" lengthAdjust="spacingAndGlyphs">0.0</text>
<text x="717.45" y="144.45" font-size="4.6" fill="#0a0a0a" text-anchor="middle" textLength="15.21" lengthAdjust="spacingAndGlyphs">0.0000</text>
<text x="735.50" y="144.45" font-size="4.6" fill="#0a0a0a" text-anchor="middle" textLength="6.91" lengthAdjust="spacingAndGlyphs">0.0</text>
<text x="25.20" y="153.08" font-size="4.9" fill="#000" text-anchor="middle" textLength="5.53" lengthAdjust="spacingAndGlyphs" stroke="#000" stroke-width="0.06">12</text>
<text x="539.95" y="152.78" font-size="4.6" fill="#0a0a0a" text-anchor="middle" textLength="15.21" lengthAdjust="spacingAndGlyphs">0.0000</text>
<text x="568.55" y="152.78" font-size="4.6" fill="#0a0a0a" text-anchor="middle" textLength="15.21" lengthAdjust="spacingAndGlyphs">0.0000</text>
<text x="598.10" y="152.78" font-size="4.6" fill="#0a0a0a" text-anchor="middle" textLength="15.21" lengthAdjust="spacingAndGlyphs">0.0000</text>
<text x="629.83" y="152.78" font-size="4.6" fill="#0a0a0a" text-anchor="middle" textLength="15.21" lengthAdjust="spacingAndGlyphs">0.0000</text>
<line x1="621.77" y1="151.68" x2="637.88" y2="151.68" stroke="#444" stroke-width="0.32"/>
<text x="661.03" y="152.98" font-size="4.6" fill="#d83042" text-anchor="middle" textLength="6.91" lengthAdjust="spacingAndGlyphs">0.0</text>
<line x1="657.12" y1="151.88" x2="664.93" y2="151.88" stroke="#d83042" stroke-width="0.32"/>
<text x="676.58" y="152.98" font-size="4.6" fill="#d83042" text-anchor="middle" textLength="6.91" lengthAdjust="spacingAndGlyphs">0.0</text>
<line x1="672.67" y1="151.88" x2="680.48" y2="151.88" stroke="#d83042" stroke-width="0.32"/>
<text x="695.60" y="152.98" font-size="4.6" fill="#d83042" text-anchor="middle" textLength="6.91" lengthAdjust="spacingAndGlyphs">0.0</text>
<text x="717.45" y="152.78" font-size="4.6" fill="#0a0a0a" text-anchor="middle" textLength="15.21" lengthAdjust="spacingAndGlyphs">0.0000</text>
<text x="735.50" y="152.78" font-size="4.6" fill="#0a0a0a" text-anchor="middle" textLength="6.91" lengthAdjust="spacingAndGlyphs">0.0</text>
<text x="25.20" y="161.41" font-size="4.9" fill="#000" text-anchor="middle" textLength="5.53" lengthAdjust="spacingAndGlyphs" stroke="#000" stroke-width="0.06">13</text>
<text x="539.95" y="159.98" font-size="4.6" fill="#0a0a0a" text-anchor="middle" textLength="15.21" lengthAdjust="spacingAndGlyphs">0.0000</text>
<text x="568.55" y="159.98" font-size="4.6" fill="#0a0a0a" text-anchor="middle" textLength="15.21" lengthAdjust="spacingAndGlyphs">0.0000</text>
<text x="598.10" y="159.98" font-size="4.6" fill="#0a0a0a" text-anchor="middle" textLength="15.21" lengthAdjust="spacingAndGlyphs">0.0000</text>
<text x="629.83" y="159.98" font-size="4.6" fill="#0a0a0a" text-anchor="middle" textLength="15.21" lengthAdjust="spacingAndGlyphs">0.0000</text>
<line x1="621.77" y1="158.88" x2="637.88" y2="158.88" stroke="#444" stroke-width="0.32"/>
<text x="661.03" y="160.18" font-size="4.6" fill="#d83042" text-anchor="middle" textLength="6.91" lengthAdjust="spacingAndGlyphs">0.0</text>
<line x1="657.12" y1="159.08" x2="664.93" y2="159.08" stroke="#d83042" stroke-width="0.32"/>
<text x="676.58" y="160.18" font-size="4.6" fill="#d83042" text-anchor="middle" textLength="6.91" lengthAdjust="spacingAndGlyphs">0.0</text>
<line x1="672.67" y1="159.08" x2="680.48" y2="159.08" stroke="#d83042" stroke-width="0.32"/>
<text x="695.60" y="160.18" font-size="4.6" fill="#d83042" text-anchor="middle" textLength="6.91" lengthAdjust="spacingAndGlyphs">0.0</text>
<text x="717.45" y="159.98" font-size="4.6" fill="#0a0a0a" text-anchor="middle" textLength="15.21" lengthAdjust="spacingAndGlyphs">0.0000</text>
<text x="735.50" y="159.98" font-size="4.6" fill="#0a0a0a" text-anchor="middle" textLength="6.91" lengthAdjust="spacingAndGlyphs">0.0</text>
<text x="25.20" y="168.61" font-size="4.9" fill="#000" text-anchor="middle" textLength="5.53" lengthAdjust="spacingAndGlyphs" stroke="#000" stroke-width="0.06">14</text>
<text x="539.95" y="168.31" font-size="4.6" fill="#0a0a0a" text-anchor="middle" textLength="15.21" lengthAdjust="spacingAndGlyphs">0.0000</text>
<text x="568.55" y="168.31" font-size="4.6" fill="#0a0a0a" text-anchor="middle" textLength="15.21" lengthAdjust="spacingAndGlyphs">0.0000</text>
<text x="598.10" y="168.31" font-size="4.6" fill="#0a0a0a" text-anchor="middle" textLength="15.21" lengthAdjust="spacingAndGlyphs">0.0000</text>
<text x="629.83" y="168.31" font-size="4.6" fill="#0a0a0a" text-anchor="middle" textLength="15.21" lengthAdjust="spacingAndGlyphs">0.0000</text>
<line x1="621.77" y1="167.21" x2="637.88" y2="167.21" stroke="#444" stroke-width="0.32"/>
<text x="661.03" y="168.51" font-size="4.6" fill="#d83042" text-anchor="middle" textLength="6.91" lengthAdjust="spacingAndGlyphs">0.0</text>
<line x1="657.12" y1="167.41" x2="664.93" y2="167.41" stroke="#d83042" stroke-width="0.32"/>
<text x="676.58" y="168.51" font-size="4.6" fill="#d83042" text-anchor="middle" textLength="6.91" lengthAdjust="spacingAndGlyphs">0.0</text>
<line x1="672.67" y1="167.41" x2="680.48" y2="167.41" stroke="#d83042" stroke-width="0.32"/>
<text x="695.60" y="168.51" font-size="4.6" fill="#d83042" text-anchor="middle" textLength="6.91" lengthAdjust="spacingAndGlyphs">0.0</text>
<text x="717.45" y="168.31" font-size="4.6" fill="#0a0a0a" text-anchor="middle" textLength="15.21" lengthAdjust="spacingAndGlyphs">0.0000</text>
<text x="735.50" y="168.31" font-size="4.6" fill="#0a0a0a" text-anchor="middle" textLength="6.91" lengthAdjust="spacingAndGlyphs">0.0</text>
<text x="25.20" y="176.94" font-size="4.9" fill="#000" text-anchor="middle" textLength="5.53" lengthAdjust="spacingAndGlyphs" stroke="#000" stroke-width="0.06">15</text>
<text x="539.95" y="175.51" font-size="4.6" fill="#0a0a0a" text-anchor="middle" textLength="15.21" lengthAdjust="spacingAndGlyphs">0.0000</text>
<text x="568.55" y="175.51" font-size="4.6" fill="#0a0a0a" text-anchor="middle" textLength="15.21" lengthAdjust="spacingAndGlyphs">0.0000</text>
<text x="598.10" y="175.51" font-size="4.6" fill="#0a0a0a" text-anchor="middle" textLength="15.21" lengthAdjust="spacingAndGlyphs">0.0000</text>
<text x="629.83" y="175.51" font-size="4.6" fill="#0a0a0a" text-anchor="middle" textLength="15.21" lengthAdjust="spacingAndGlyphs">0.0000</text>
<line x1="621.77" y1="174.41" x2="637.88" y2="174.41" stroke="#444" stroke-width="0.32"/>
<text x="661.03" y="175.71" font-size="4.6" fill="#d83042" text-anchor="middle" textLength="6.91" lengthAdjust="spacingAndGlyphs">0.0</text>
<line x1="657.12" y1="174.61" x2="664.93" y2="174.61" stroke="#d83042" stroke-width="0.32"/>
<text x="676.58" y="175.71" font-size="4.6" fill="#d83042" text-anchor="middle" textLength="6.91" lengthAdjust="spacingAndGlyphs">0.0</text>
<line x1="672.67" y1="174.61" x2="680.48" y2="174.61" stroke="#d83042" stroke-width="0.32"/>
<text x="695.60" y="175.71" font-size="4.6" fill="#d83042" text-anchor="middle" textLength="6.91" lengthAdjust="spacingAndGlyphs">0.0</text>
<text x="717.45" y="175.51" font-size="4.6" fill="#0a0a0a" text-anchor="middle" textLength="15.21" lengthAdjust="spacingAndGlyphs">0.0000</text>
<text x="735.50" y="175.51" font-size="4.6" fill="#0a0a0a" text-anchor="middle" textLength="6.91" lengthAdjust="spacingAndGlyphs">0.0</text>
<text x="25.20" y="184.14" font-size="4.9" fill="#000" text-anchor="middle" textLength="5.53" lengthAdjust="spacingAndGlyphs" stroke="#000" stroke-width="0.06">16</text>
<text x="539.95" y="183.84" font-size="4.6" fill="#0a0a0a" text-anchor="middle" textLength="15.21" lengthAdjust="spacingAndGlyphs">0.0000</text>
<text x="568.55" y="183.84" font-size="4.6" fill="#0a0a0a" text-anchor="middle" textLength="15.21" lengthAdjust="spacingAndGlyphs">0.0000</text>
<text x="598.10" y="183.84" font-size="4.6" fill="#0a0a0a" text-anchor="middle" textLength="15.21" lengthAdjust="spacingAndGlyphs">0.0000</text>
<text x="629.83" y="183.84" font-size="4.6" fill="#0a0a0a" text-anchor="middle" textLength="15.21" lengthAdjust="spacingAndGlyphs">0.0000</text>
<line x1="621.77" y1="182.74" x2="637.88" y2="182.74" stroke="#444" stroke-width="0.32"/>
<text x="661.03" y="184.04" font-size="4.6" fill="#d83042" text-anchor="middle" textLength="6.91" lengthAdjust="spacingAndGlyphs">0.0</text>
<line x1="657.12" y1="182.94" x2="664.93" y2="182.94" stroke="#d83042" stroke-width="0.32"/>
<text x="676.58" y="184.04" font-size="4.6" fill="#d83042" text-anchor="middle" textLength="6.91" lengthAdjust="spacingAndGlyphs">0.0</text>
<line x1="672.67" y1="182.94" x2="680.48" y2="182.94" stroke="#d83042" stroke-width="0.32"/>
<text x="695.60" y="184.04" font-size="4.6" fill="#d83042" text-anchor="middle" textLength="6.91" lengthAdjust="spacingAndGlyphs">0.0</text>
<text x="717.45" y="183.84" font-size="4.6" fill="#0a0a0a" text-anchor="middle" textLength="15.21" lengthAdjust="spacingAndGlyphs">0.0000</text>
<text x="735.50" y="183.84" font-size="4.6" fill="#0a0a0a" text-anchor="middle" textLength="6.91" lengthAdjust="spacingAndGlyphs">0.0</text>
<text x="25.20" y="192.47" font-size="4.9" fill="#000" text-anchor="middle" textLength="5.53" lengthAdjust="spacingAndGlyphs" stroke="#000" stroke-width="0.06">17</text>
<text x="539.95" y="191.04" font-size="4.6" fill="#0a0a0a" text-anchor="middle" textLength="15.21" lengthAdjust="spacingAndGlyphs">0.0000</text>
<text x="568.55" y="191.04" font-size="4.6" fill="#0a0a0a" text-anchor="middle" textLength="15.21" lengthAdjust="spacingAndGlyphs">0.0000</text>
<text x="598.10" y="191.04" font-size="4.6" fill="#0a0a0a" text-anchor="middle" textLength="15.21" lengthAdjust="spacingAndGlyphs">0.0000</text>
<text x="629.83" y="191.04" font-size="4.6" fill="#0a0a0a" text-anchor="middle" textLength="15.21" lengthAdjust="spacingAndGlyphs">0.0000</text>
<line x1="621.77" y1="189.94" x2="637.88" y2="189.94" stroke="#444" stroke-width="0.32"/>
<text x="661.03" y="191.24" font-size="4.6" fill="#d83042" text-anchor="middle" textLength="6.91" lengthAdjust="spacingAndGlyphs">0.0</text>
<line x1="657.12" y1="190.14" x2="664.93" y2="190.14" stroke="#d83042" stroke-width="0.32"/>
<text x="676.58" y="191.24" font-size="4.6" fill="#d83042" text-anchor="middle" textLength="6.91" lengthAdjust="spacingAndGlyphs">0.0</text>
<line x1="672.67" y1="190.14" x2="680.48" y2="190.14" stroke="#d83042" stroke-width="0.32"/>
<text x="695.60" y="191.24" font-size="4.6" fill="#d83042" text-anchor="middle" textLength="6.91" lengthAdjust="spacingAndGlyphs">0.0</text>
<text x="717.45" y="191.04" font-size="4.6" fill="#0a0a0a" text-anchor="middle" textLength="15.21" lengthAdjust="spacingAndGlyphs">0.0000</text>
<text x="735.50" y="191.04" font-size="4.6" fill="#0a0a0a" text-anchor="middle" textLength="6.91" lengthAdjust="spacingAndGlyphs">0.0</text>
<text x="25.20" y="199.67" font-size="4.9" fill="#000" text-anchor="middle" textLength="5.53" lengthAdjust="spacingAndGlyphs" stroke="#000" stroke-width="0.06">18</text>
<text x="539.95" y="199.37" font-size="4.6" fill="#0a0a0a" text-anchor="middle" textLength="15.21" lengthAdjust="spacingAndGlyphs">0.0000</text>
<text x="568.55" y="199.37" font-size="4.6" fill="#0a0a0a" text-anchor="middle" textLength="15.21" lengthAdjust="spacingAndGlyphs">0.0000</text>
<text x="598.10" y="199.37" font-size="4.6" fill="#0a0a0a" text-anchor="middle" textLength="15.21" lengthAdjust="spacingAndGlyphs">0.0000</text>
<text x="629.83" y="199.37" font-size="4.6" fill="#0a0a0a" text-anchor="middle" textLength="15.21" lengthAdjust="spacingAndGlyphs">0.0000</text>
<line x1="621.77" y1="198.27" x2="637.88" y2="198.27" stroke="#444" stroke-width="0.32"/>
<text x="661.03" y="199.57" font-size="4.6" fill="#d83042" text-anchor="middle" textLength="6.91" lengthAdjust="spacingAndGlyphs">0.0</text>
<line x1="657.12" y1="198.47" x2="664.93" y2="198.47" stroke="#d83042" stroke-width="0.32"/>
<text x="676.58" y="199.57" font-size="4.6" fill="#d83042" text-anchor="middle" textLength="6.91" lengthAdjust="spacingAndGlyphs">0.0</text>
<line x1="672.67" y1="198.47" x2="680.48" y2="198.47" stroke="#d83042" stroke-width="0.32"/>
<text x="695.60" y="199.57" font-size="4.6" fill="#d83042" text-anchor="middle" textLength="6.91" lengthAdjust="spacingAndGlyphs">0.0</text>
<text x="717.45" y="199.37" font-size="4.6" fill="#0a0a0a" text-anchor="middle" textLength="15.21" lengthAdjust="spacingAndGlyphs">0.0000</text>
<text x="735.50" y="199.37" font-size="4.6" fill="#0a0a0a" text-anchor="middle" textLength="6.91" lengthAdjust="spacingAndGlyphs">0.0</text>
<text x="25.20" y="208.00" font-size="4.9" fill="#000" text-anchor="middle" textLength="5.53" lengthAdjust="spacingAndGlyphs" stroke="#000" stroke-width="0.06">19</text>
<text x="539.95" y="206.57" font-size="4.6" fill="#0a0a0a" text-anchor="middle" textLength="15.21" lengthAdjust="spacingAndGlyphs">0.0000</text>
<text x="568.55" y="206.57" font-size="4.6" fill="#0a0a0a" text-anchor="middle" textLength="15.21" lengthAdjust="spacingAndGlyphs">0.0000</text>
<text x="598.10" y="206.57" font-size="4.6" fill="#0a0a0a" text-anchor="middle" textLength="15.21" lengthAdjust="spacingAndGlyphs">0.0000</text>
<text x="629.83" y="206.57" font-size="4.6" fill="#0a0a0a" text-anchor="middle" textLength="15.21" lengthAdjust="spacingAndGlyphs">0.0000</text>
<line x1="621.77" y1="205.47" x2="637.88" y2="205.47" stroke="#444" stroke-width="0.32"/>
<text x="661.03" y="206.77" font-size="4.6" fill="#d83042" text-anchor="middle" textLength="6.91" lengthAdjust="spacingAndGlyphs">0.0</text>
<line x1="657.12" y1="205.67" x2="664.93" y2="205.67" stroke="#d83042" stroke-width="0.32"/>
<text x="676.58" y="206.77" font-size="4.6" fill="#d83042" text-anchor="middle" textLength="6.91" lengthAdjust="spacingAndGlyphs">0.0</text>
<line x1="672.67" y1="205.67" x2="680.48" y2="205.67" stroke="#d83042" stroke-width="0.32"/>
<text x="695.60" y="206.77" font-size="4.6" fill="#d83042" text-anchor="middle" textLength="6.91" lengthAdjust="spacingAndGlyphs">0.0</text>
<text x="717.45" y="206.57" font-size="4.6" fill="#0a0a0a" text-anchor="middle" textLength="15.21" lengthAdjust="spacingAndGlyphs">0.0000</text>
<text x="735.50" y="206.57" font-size="4.6" fill="#0a0a0a" text-anchor="middle" textLength="6.91" lengthAdjust="spacingAndGlyphs">0.0</text>
<text x="25.20" y="215.20" font-size="4.9" fill="#000" text-anchor="middle" textLength="5.53" lengthAdjust="spacingAndGlyphs" stroke="#000" stroke-width="0.06">20</text>
<text x="539.95" y="214.90" font-size="4.6" fill="#0a0a0a" text-anchor="middle" textLength="15.21" lengthAdjust="spacingAndGlyphs">0.0000</text>
<text x="568.55" y="214.90" font-size="4.6" fill="#0a0a0a" text-anchor="middle" textLength="15.21" lengthAdjust="spacingAndGlyphs">0.0000</text>
<text x="598.10" y="214.90" font-size="4.6" fill="#0a0a0a" text-anchor="middle" textLength="15.21" lengthAdjust="spacingAndGlyphs">0.0000</text>
<text x="629.83" y="214.90" font-size="4.6" fill="#0a0a0a" text-anchor="middle" textLength="15.21" lengthAdjust="spacingAndGlyphs">0.0000</text>
<line x1="621.77" y1="213.80" x2="637.88" y2="213.80" stroke="#444" stroke-width="0.32"/>
<text x="661.03" y="215.10" font-size="4.6" fill="#d83042" text-anchor="middle" textLength="6.91" lengthAdjust="spacingAndGlyphs">0.0</text>
<line x1="657.12" y1="214.00" x2="664.93" y2="214.00" stroke="#d83042" stroke-width="0.32"/>
<text x="676.58" y="215.10" font-size="4.6" fill="#d83042" text-anchor="middle" textLength="6.91" lengthAdjust="spacingAndGlyphs">0.0</text>
<line x1="672.67" y1="214.00" x2="680.48" y2="214.00" stroke="#d83042" stroke-width="0.32"/>
<text x="695.60" y="215.10" font-size="4.6" fill="#d83042" text-anchor="middle" textLength="6.91" lengthAdjust="spacingAndGlyphs">0.0</text>
<text x="717.45" y="214.90" font-size="4.6" fill="#0a0a0a" text-anchor="middle" textLength="15.21" lengthAdjust="spacingAndGlyphs">0.0000</text>
<text x="735.50" y="214.90" font-size="4.6" fill="#0a0a0a" text-anchor="middle" textLength="6.91" lengthAdjust="spacingAndGlyphs">0.0</text>
<text x="25.20" y="223.53" font-size="4.9" fill="#000" text-anchor="middle" textLength="5.53" lengthAdjust="spacingAndGlyphs" stroke="#000" stroke-width="0.06">21</text>
<text x="539.95" y="222.10" font-size="4.6" fill="#0a0a0a" text-anchor="middle" textLength="15.21" lengthAdjust="spacingAndGlyphs">0.0000</text>
<text x="568.55" y="222.10" font-size="4.6" fill="#0a0a0a" text-anchor="middle" textLength="15.21" lengthAdjust="spacingAndGlyphs">0.0000</text>
<text x="598.10" y="222.10" font-size="4.6" fill="#0a0a0a" text-anchor="middle" textLength="15.21" lengthAdjust="spacingAndGlyphs">0.0000</text>
<text x="629.83" y="222.10" font-size="4.6" fill="#0a0a0a" text-anchor="middle" textLength="15.21" lengthAdjust="spacingAndGlyphs">0.0000</text>
<line x1="621.77" y1="221.00" x2="637.88" y2="221.00" stroke="#444" stroke-width="0.32"/>
<text x="661.03" y="222.30" font-size="4.6" fill="#d83042" text-anchor="middle" textLength="6.91" lengthAdjust="spacingAndGlyphs">0.0</text>
<line x1="657.12" y1="221.20" x2="664.93" y2="221.20" stroke="#d83042" stroke-width="0.32"/>
<text x="676.58" y="222.30" font-size="4.6" fill="#d83042" text-anchor="middle" textLength="6.91" lengthAdjust="spacingAndGlyphs">0.0</text>
<line x1="672.67" y1="221.20" x2="680.48" y2="221.20" stroke="#d83042" stroke-width="0.32"/>
<text x="695.60" y="222.30" font-size="4.6" fill="#d83042" text-anchor="middle" textLength="6.91" lengthAdjust="spacingAndGlyphs">0.0</text>
<text x="717.45" y="222.10" font-size="4.6" fill="#0a0a0a" text-anchor="middle" textLength="15.21" lengthAdjust="spacingAndGlyphs">0.0000</text>
<text x="735.50" y="222.10" font-size="4.6" fill="#0a0a0a" text-anchor="middle" textLength="6.91" lengthAdjust="spacingAndGlyphs">0.0</text>
<text x="25.20" y="230.73" font-size="4.9" fill="#000" text-anchor="middle" textLength="5.53" lengthAdjust="spacingAndGlyphs" stroke="#000" stroke-width="0.06">22</text>
<text x="539.95" y="230.43" font-size="4.6" fill="#0a0a0a" text-anchor="middle" textLength="15.21" lengthAdjust="spacingAndGlyphs">0.0000</text>
<text x="568.55" y="230.43" font-size="4.6" fill="#0a0a0a" text-anchor="middle" textLength="15.21" lengthAdjust="spacingAndGlyphs">0.0000</text>
<text x="598.10" y="230.43" font-size="4.6" fill="#0a0a0a" text-anchor="middle" textLength="15.21" lengthAdjust="spacingAndGlyphs">0.0000</text>
<text x="629.83" y="230.43" font-size="4.6" fill="#0a0a0a" text-anchor="middle" textLength="15.21" lengthAdjust="spacingAndGlyphs">0.0000</text>
<line x1="621.77" y1="229.33" x2="637.88" y2="229.33" stroke="#444" stroke-width="0.32"/>
<text x="661.03" y="230.63" font-size="4.6" fill="#d83042" text-anchor="middle" textLength="6.91" lengthAdjust="spacingAndGlyphs">0.0</text>
<line x1="657.12" y1="229.53" x2="664.93" y2="229.53" stroke="#d83042" stroke-width="0.32"/>
<text x="676.58" y="230.63" font-size="4.6" fill="#d83042" text-anchor="middle" textLength="6.91" lengthAdjust="spacingAndGlyphs">0.0</text>
<line x1="672.67" y1="229.53" x2="680.48" y2="229.53" stroke="#d83042" stroke-width="0.32"/>
<text x="695.60" y="230.63" font-size="4.6" fill="#d83042" text-anchor="middle" textLength="6.91" lengthAdjust="spacingAndGlyphs">0.0</text>
<text x="717.45" y="230.43" font-size="4.6" fill="#0a0a0a" text-anchor="middle" textLength="15.21" lengthAdjust="spacingAndGlyphs">0.0000</text>
<text x="735.50" y="230.43" font-size="4.6" fill="#0a0a0a" text-anchor="middle" textLength="6.91" lengthAdjust="spacingAndGlyphs">0.0</text>
<text x="25.20" y="239.06" font-size="4.9" fill="#000" text-anchor="middle" textLength="5.53" lengthAdjust="spacingAndGlyphs" stroke="#000" stroke-width="0.06">23</text>
<text x="539.95" y="237.63" font-size="4.6" fill="#0a0a0a" text-anchor="middle" textLength="15.21" lengthAdjust="spacingAndGlyphs">0.0000</text>
<text x="568.55" y="237.63" font-size="4.6" fill="#0a0a0a" text-anchor="middle" textLength="15.21" lengthAdjust="spacingAndGlyphs">0.0000</text>
<text x="598.10" y="237.63" font-size="4.6" fill="#0a0a0a" text-anchor="middle" textLength="15.21" lengthAdjust="spacingAndGlyphs">0.0000</text>
<text x="629.83" y="237.63" font-size="4.6" fill="#0a0a0a" text-anchor="middle" textLength="15.21" lengthAdjust="spacingAndGlyphs">0.0000</text>
<line x1="621.77" y1="236.53" x2="637.88" y2="236.53" stroke="#444" stroke-width="0.32"/>
<text x="661.03" y="237.83" font-size="4.6" fill="#d83042" text-anchor="middle" textLength="6.91" lengthAdjust="spacingAndGlyphs">0.0</text>
<line x1="657.12" y1="236.73" x2="664.93" y2="236.73" stroke="#d83042" stroke-width="0.32"/>
<text x="676.58" y="237.83" font-size="4.6" fill="#d83042" text-anchor="middle" textLength="6.91" lengthAdjust="spacingAndGlyphs">0.0</text>
<line x1="672.67" y1="236.73" x2="680.48" y2="236.73" stroke="#d83042" stroke-width="0.32"/>
<text x="695.60" y="237.83" font-size="4.6" fill="#d83042" text-anchor="middle" textLength="6.91" lengthAdjust="spacingAndGlyphs">0.0</text>
<text x="717.45" y="237.63" font-size="4.6" fill="#0a0a0a" text-anchor="middle" textLength="15.21" lengthAdjust="spacingAndGlyphs">0.0000</text>
<text x="735.50" y="237.63" font-size="4.6" fill="#0a0a0a" text-anchor="middle" textLength="6.91" lengthAdjust="spacingAndGlyphs">0.0</text>
<text x="25.20" y="246.26" font-size="4.9" fill="#000" text-anchor="middle" textLength="5.53" lengthAdjust="spacingAndGlyphs" stroke="#000" stroke-width="0.06">24</text>
<text x="539.95" y="245.96" font-size="4.6" fill="#0a0a0a" text-anchor="middle" textLength="15.21" lengthAdjust="spacingAndGlyphs">0.0000</text>
<text x="568.55" y="245.96" font-size="4.6" fill="#0a0a0a" text-anchor="middle" textLength="15.21" lengthAdjust="spacingAndGlyphs">0.0000</text>
<text x="598.10" y="245.96" font-size="4.6" fill="#0a0a0a" text-anchor="middle" textLength="15.21" lengthAdjust="spacingAndGlyphs">0.0000</text>
<text x="629.83" y="245.96" font-size="4.6" fill="#0a0a0a" text-anchor="middle" textLength="15.21" lengthAdjust="spacingAndGlyphs">0.0000</text>
<line x1="621.77" y1="244.86" x2="637.88" y2="244.86" stroke="#444" stroke-width="0.32"/>
<text x="661.03" y="246.16" font-size="4.6" fill="#d83042" text-anchor="middle" textLength="6.91" lengthAdjust="spacingAndGlyphs">0.0</text>
<line x1="657.12" y1="245.06" x2="664.93" y2="245.06" stroke="#d83042" stroke-width="0.32"/>
<text x="676.58" y="246.16" font-size="4.6" fill="#d83042" text-anchor="middle" textLength="6.91" lengthAdjust="spacingAndGlyphs">0.0</text>
<line x1="672.67" y1="245.06" x2="680.48" y2="245.06" stroke="#d83042" stroke-width="0.32"/>
<text x="695.60" y="246.16" font-size="4.6" fill="#d83042" text-anchor="middle" textLength="6.91" lengthAdjust="spacingAndGlyphs">0.0</text>
<text x="717.45" y="245.96" font-size="4.6" fill="#0a0a0a" text-anchor="middle" textLength="15.21" lengthAdjust="spacingAndGlyphs">0.0000</text>
<text x="735.50" y="245.96" font-size="4.6" fill="#0a0a0a" text-anchor="middle" textLength="6.91" lengthAdjust="spacingAndGlyphs">0.0</text>
<text x="25.20" y="254.59" font-size="4.9" fill="#000" text-anchor="middle" textLength="5.53" lengthAdjust="spacingAndGlyphs" stroke="#000" stroke-width="0.06">25</text>
<text x="539.95" y="253.16" font-size="4.6" fill="#0a0a0a" text-anchor="middle" textLength="15.21" lengthAdjust="spacingAndGlyphs">0.0000</text>
<text x="568.55" y="253.16" font-size="4.6" fill="#0a0a0a" text-anchor="middle" textLength="15.21" lengthAdjust="spacingAndGlyphs">0.0000</text>
<text x="598.10" y="253.16" font-size="4.6" fill="#0a0a0a" text-anchor="middle" textLength="15.21" lengthAdjust="spacingAndGlyphs">0.0000</text>
<text x="629.83" y="253.16" font-size="4.6" fill="#0a0a0a" text-anchor="middle" textLength="15.21" lengthAdjust="spacingAndGlyphs">0.0000</text>
<line x1="621.77" y1="252.06" x2="637.88" y2="252.06" stroke="#444" stroke-width="0.32"/>
<text x="661.03" y="253.36" font-size="4.6" fill="#d83042" text-anchor="middle" textLength="6.91" lengthAdjust="spacingAndGlyphs">0.0</text>
<line x1="657.12" y1="252.26" x2="664.93" y2="252.26" stroke="#d83042" stroke-width="0.32"/>
<text x="676.58" y="253.36" font-size="4.6" fill="#d83042" text-anchor="middle" textLength="6.91" lengthAdjust="spacingAndGlyphs">0.0</text>
<line x1="672.67" y1="252.26" x2="680.48" y2="252.26" stroke="#d83042" stroke-width="0.32"/>
<text x="695.60" y="253.36" font-size="4.6" fill="#d83042" text-anchor="middle" textLength="6.91" lengthAdjust="spacingAndGlyphs">0.0</text>
<text x="717.45" y="253.16" font-size="4.6" fill="#0a0a0a" text-anchor="middle" textLength="15.21" lengthAdjust="spacingAndGlyphs">0.0000</text>
<text x="735.50" y="253.16" font-size="4.6" fill="#0a0a0a" text-anchor="middle" textLength="6.91" lengthAdjust="spacingAndGlyphs">0.0</text>
<text x="25.20" y="261.79" font-size="4.9" fill="#000" text-anchor="middle" textLength="5.53" lengthAdjust="spacingAndGlyphs" stroke="#000" stroke-width="0.06">26</text>
<text x="539.95" y="261.49" font-size="4.6" fill="#0a0a0a" text-anchor="middle" textLength="15.21" lengthAdjust="spacingAndGlyphs">0.0000</text>
<text x="568.55" y="261.49" font-size="4.6" fill="#0a0a0a" text-anchor="middle" textLength="15.21" lengthAdjust="spacingAndGlyphs">0.0000</text>
<text x="598.10" y="261.49" font-size="4.6" fill="#0a0a0a" text-anchor="middle" textLength="15.21" lengthAdjust="spacingAndGlyphs">0.0000</text>
<text x="629.83" y="261.49" font-size="4.6" fill="#0a0a0a" text-anchor="middle" textLength="15.21" lengthAdjust="spacingAndGlyphs">0.0000</text>
<line x1="621.77" y1="260.39" x2="637.88" y2="260.39" stroke="#444" stroke-width="0.32"/>
<text x="661.03" y="261.69" font-size="4.6" fill="#d83042" text-anchor="middle" textLength="6.91" lengthAdjust="spacingAndGlyphs">0.0</text>
<line x1="657.12" y1="260.59" x2="664.93" y2="260.59" stroke="#d83042" stroke-width="0.32"/>
<text x="676.58" y="261.69" font-size="4.6" fill="#d83042" text-anchor="middle" textLength="6.91" lengthAdjust="spacingAndGlyphs">0.0</text>
<line x1="672.67" y1="260.59" x2="680.48" y2="260.59" stroke="#d83042" stroke-width="0.32"/>
<text x="695.60" y="261.69" font-size="4.6" fill="#d83042" text-anchor="middle" textLength="6.91" lengthAdjust="spacingAndGlyphs">0.0</text>
<text x="717.45" y="261.49" font-size="4.6" fill="#0a0a0a" text-anchor="middle" textLength="15.21" lengthAdjust="spacingAndGlyphs">0.0000</text>
<text x="735.50" y="261.49" font-size="4.6" fill="#0a0a0a" text-anchor="middle" textLength="6.91" lengthAdjust="spacingAndGlyphs">0.0</text>
<text x="25.20" y="270.12" font-size="4.9" fill="#000" text-anchor="middle" textLength="5.53" lengthAdjust="spacingAndGlyphs" stroke="#000" stroke-width="0.06">27</text>
<text x="539.95" y="268.69" font-size="4.6" fill="#0a0a0a" text-anchor="middle" textLength="15.21" lengthAdjust="spacingAndGlyphs">0.0000</text>
<text x="568.55" y="268.69" font-size="4.6" fill="#0a0a0a" text-anchor="middle" textLength="15.21" lengthAdjust="spacingAndGlyphs">0.0000</text>
<text x="598.10" y="268.69" font-size="4.6" fill="#0a0a0a" text-anchor="middle" textLength="15.21" lengthAdjust="spacingAndGlyphs">0.0000</text>
<text x="629.83" y="268.69" font-size="4.6" fill="#0a0a0a" text-anchor="middle" textLength="15.21" lengthAdjust="spacingAndGlyphs">0.0000</text>
<line x1="621.77" y1="267.59" x2="637.88" y2="267.59" stroke="#444" stroke-width="0.32"/>
<text x="661.03" y="268.89" font-size="4.6" fill="#d83042" text-anchor="middle" textLength="6.91" lengthAdjust="spacingAndGlyphs">0.0</text>
<line x1="657.12" y1="267.79" x2="664.93" y2="267.79" stroke="#d83042" stroke-width="0.32"/>
<text x="676.58" y="268.89" font-size="4.6" fill="#d83042" text-anchor="middle" textLength="6.91" lengthAdjust="spacingAndGlyphs">0.0</text>
<line x1="672.67" y1="267.79" x2="680.48" y2="267.79" stroke="#d83042" stroke-width="0.32"/>
<text x="695.60" y="268.89" font-size="4.6" fill="#d83042" text-anchor="middle" textLength="6.91" lengthAdjust="spacingAndGlyphs">0.0</text>
<text x="717.45" y="268.69" font-size="4.6" fill="#0a0a0a" text-anchor="middle" textLength="15.21" lengthAdjust="spacingAndGlyphs">0.0000</text>
<text x="735.50" y="268.69" font-size="4.6" fill="#0a0a0a" text-anchor="middle" textLength="6.91" lengthAdjust="spacingAndGlyphs">0.0</text>
<text x="25.20" y="277.32" font-size="4.9" fill="#000" text-anchor="middle" textLength="5.53" lengthAdjust="spacingAndGlyphs" stroke="#000" stroke-width="0.06">28</text>
<text x="539.95" y="277.02" font-size="4.6" fill="#0a0a0a" text-anchor="middle" textLength="15.21" lengthAdjust="spacingAndGlyphs">0.0000</text>
<text x="568.55" y="277.02" font-size="4.6" fill="#0a0a0a" text-anchor="middle" textLength="15.21" lengthAdjust="spacingAndGlyphs">0.0000</text>
<text x="598.10" y="277.02" font-size="4.6" fill="#0a0a0a" text-anchor="middle" textLength="15.21" lengthAdjust="spacingAndGlyphs">0.0000</text>
<text x="629.83" y="277.02" font-size="4.6" fill="#0a0a0a" text-anchor="middle" textLength="15.21" lengthAdjust="spacingAndGlyphs">0.0000</text>
<line x1="621.77" y1="275.92" x2="637.88" y2="275.92" stroke="#444" stroke-width="0.32"/>
<text x="661.03" y="277.22" font-size="4.6" fill="#d83042" text-anchor="middle" textLength="6.91" lengthAdjust="spacingAndGlyphs">0.0</text>
<line x1="657.12" y1="276.12" x2="664.93" y2="276.12" stroke="#d83042" stroke-width="0.32"/>
<text x="676.58" y="277.22" font-size="4.6" fill="#d83042" text-anchor="middle" textLength="6.91" lengthAdjust="spacingAndGlyphs">0.0</text>
<line x1="672.67" y1="276.12" x2="680.48" y2="276.12" stroke="#d83042" stroke-width="0.32"/>
<text x="695.60" y="277.22" font-size="4.6" fill="#d83042" text-anchor="middle" textLength="6.91" lengthAdjust="spacingAndGlyphs">0.0</text>
<text x="717.45" y="277.02" font-size="4.6" fill="#0a0a0a" text-anchor="middle" textLength="15.21" lengthAdjust="spacingAndGlyphs">0.0000</text>
<text x="735.50" y="277.02" font-size="4.6" fill="#0a0a0a" text-anchor="middle" textLength="6.91" lengthAdjust="spacingAndGlyphs">0.0</text>
<text x="25.20" y="285.65" font-size="4.9" fill="#000" text-anchor="middle" textLength="5.53" lengthAdjust="spacingAndGlyphs" stroke="#000" stroke-width="0.06">29</text>
<text x="539.95" y="284.22" font-size="4.6" fill="#0a0a0a" text-anchor="middle" textLength="15.21" lengthAdjust="spacingAndGlyphs">0.0000</text>
<text x="568.55" y="284.22" font-size="4.6" fill="#0a0a0a" text-anchor="middle" textLength="15.21" lengthAdjust="spacingAndGlyphs">0.0000</text>
<text x="598.10" y="284.22" font-size="4.6" fill="#0a0a0a" text-anchor="middle" textLength="15.21" lengthAdjust="spacingAndGlyphs">0.0000</text>
<text x="629.83" y="284.22" font-size="4.6" fill="#0a0a0a" text-anchor="middle" textLength="15.21" lengthAdjust="spacingAndGlyphs">0.0000</text>
<line x1="621.77" y1="283.12" x2="637.88" y2="283.12" stroke="#444" stroke-width="0.32"/>
<text x="661.03" y="284.42" font-size="4.6" fill="#d83042" text-anchor="middle" textLength="6.91" lengthAdjust="spacingAndGlyphs">0.0</text>
<line x1="657.12" y1="283.32" x2="664.93" y2="283.32" stroke="#d83042" stroke-width="0.32"/>
<text x="676.58" y="284.42" font-size="4.6" fill="#d83042" text-anchor="middle" textLength="6.91" lengthAdjust="spacingAndGlyphs">0.0</text>
<line x1="672.67" y1="283.32" x2="680.48" y2="283.32" stroke="#d83042" stroke-width="0.32"/>
<text x="695.60" y="284.42" font-size="4.6" fill="#d83042" text-anchor="middle" textLength="6.91" lengthAdjust="spacingAndGlyphs">0.0</text>
<text x="717.45" y="284.22" font-size="4.6" fill="#0a0a0a" text-anchor="middle" textLength="15.21" lengthAdjust="spacingAndGlyphs">0.0000</text>
<text x="735.50" y="284.22" font-size="4.6" fill="#0a0a0a" text-anchor="middle" textLength="6.91" lengthAdjust="spacingAndGlyphs">0.0</text>
<text x="25.20" y="292.85" font-size="4.9" fill="#000" text-anchor="middle" textLength="5.53" lengthAdjust="spacingAndGlyphs" stroke="#000" stroke-width="0.06">30</text>
<text x="539.95" y="292.55" font-size="4.6" fill="#0a0a0a" text-anchor="middle" textLength="15.21" lengthAdjust="spacingAndGlyphs">0.0000</text>
<text x="568.55" y="292.55" font-size="4.6" fill="#0a0a0a" text-anchor="middle" textLength="15.21" lengthAdjust="spacingAndGlyphs">0.0000</text>
<text x="598.10" y="292.55" font-size="4.6" fill="#0a0a0a" text-anchor="middle" textLength="15.21" lengthAdjust="spacingAndGlyphs">0.0000</text>
<text x="629.83" y="292.55" font-size="4.6" fill="#0a0a0a" text-anchor="middle" textLength="15.21" lengthAdjust="spacingAndGlyphs">0.0000</text>
<line x1="621.77" y1="291.45" x2="637.88" y2="291.45" stroke="#444" stroke-width="0.32"/>
<text x="661.03" y="292.75" font-size="4.6" fill="#d83042" text-anchor="middle" textLength="6.91" lengthAdjust="spacingAndGlyphs">0.0</text>
<line x1="657.12" y1="291.65" x2="664.93" y2="291.65" stroke="#d83042" stroke-width="0.32"/>
<text x="676.58" y="292.75" font-size="4.6" fill="#d83042" text-anchor="middle" textLength="6.91" lengthAdjust="spacingAndGlyphs">0.0</text>
<line x1="672.67" y1="291.65" x2="680.48" y2="291.65" stroke="#d83042" stroke-width="0.32"/>
<text x="695.60" y="292.75" font-size="4.6" fill="#d83042" text-anchor="middle" textLength="6.91" lengthAdjust="spacingAndGlyphs">0.0</text>
<text x="717.45" y="292.55" font-size="4.6" fill="#0a0a0a" text-anchor="middle" textLength="15.21" lengthAdjust="spacingAndGlyphs">0.0000</text>
<text x="735.50" y="292.55" font-size="4.6" fill="#0a0a0a" text-anchor="middle" textLength="6.91" lengthAdjust="spacingAndGlyphs">0.0</text>
<text x="25.20" y="301.18" font-size="4.9" fill="#000" text-anchor="middle" textLength="5.53" lengthAdjust="spacingAndGlyphs" stroke="#000" stroke-width="0.06">31</text>
<text x="539.95" y="299.75" font-size="4.6" fill="#0a0a0a" text-anchor="middle" textLength="15.21" lengthAdjust="spacingAndGlyphs">0.0000</text>
<text x="568.55" y="299.75" font-size="4.6" fill="#0a0a0a" text-anchor="middle" textLength="15.21" lengthAdjust="spacingAndGlyphs">0.0000</text>
<text x="598.10" y="299.75" font-size="4.6" fill="#0a0a0a" text-anchor="middle" textLength="15.21" lengthAdjust="spacingAndGlyphs">0.0000</text>
<text x="629.83" y="299.75" font-size="4.6" fill="#0a0a0a" text-anchor="middle" textLength="15.21" lengthAdjust="spacingAndGlyphs">0.0000</text>
<line x1="621.77" y1="298.65" x2="637.88" y2="298.65" stroke="#444" stroke-width="0.32"/>
<text x="661.03" y="299.95" font-size="4.6" fill="#d83042" text-anchor="middle" textLength="6.91" lengthAdjust="spacingAndGlyphs">0.0</text>
<line x1="657.12" y1="298.85" x2="664.93" y2="298.85" stroke="#d83042" stroke-width="0.32"/>
<text x="676.58" y="299.95" font-size="4.6" fill="#d83042" text-anchor="middle" textLength="6.91" lengthAdjust="spacingAndGlyphs">0.0</text>
<line x1="672.67" y1="298.85" x2="680.48" y2="298.85" stroke="#d83042" stroke-width="0.32"/>
<text x="695.60" y="299.95" font-size="4.6" fill="#d83042" text-anchor="middle" textLength="6.91" lengthAdjust="spacingAndGlyphs">0.0</text>
<text x="717.45" y="299.75" font-size="4.6" fill="#0a0a0a" text-anchor="middle" textLength="15.21" lengthAdjust="spacingAndGlyphs">0.0000</text>
<text x="735.50" y="299.75" font-size="4.6" fill="#0a0a0a" text-anchor="middle" textLength="6.91" lengthAdjust="spacingAndGlyphs">0.0</text>
<text x="25.20" y="308.38" font-size="4.9" fill="#000" text-anchor="middle" textLength="5.53" lengthAdjust="spacingAndGlyphs" stroke="#000" stroke-width="0.06">32</text>
<text x="539.95" y="308.08" font-size="4.6" fill="#0a0a0a" text-anchor="middle" textLength="15.21" lengthAdjust="spacingAndGlyphs">0.0000</text>
<text x="568.55" y="308.08" font-size="4.6" fill="#0a0a0a" text-anchor="middle" textLength="15.21" lengthAdjust="spacingAndGlyphs">0.0000</text>
<text x="598.10" y="308.08" font-size="4.6" fill="#0a0a0a" text-anchor="middle" textLength="15.21" lengthAdjust="spacingAndGlyphs">0.0000</text>
<text x="629.83" y="308.08" font-size="4.6" fill="#0a0a0a" text-anchor="middle" textLength="15.21" lengthAdjust="spacingAndGlyphs">0.0000</text>
<line x1="621.77" y1="306.98" x2="637.88" y2="306.98" stroke="#444" stroke-width="0.32"/>
<text x="661.03" y="308.28" font-size="4.6" fill="#d83042" text-anchor="middle" textLength="6.91" lengthAdjust="spacingAndGlyphs">0.0</text>
<line x1="657.12" y1="307.18" x2="664.93" y2="307.18" stroke="#d83042" stroke-width="0.32"/>
<text x="676.58" y="308.28" font-size="4.6" fill="#d83042" text-anchor="middle" textLength="6.91" lengthAdjust="spacingAndGlyphs">0.0</text>
<line x1="672.67" y1="307.18" x2="680.48" y2="307.18" stroke="#d83042" stroke-width="0.32"/>
<text x="695.60" y="308.28" font-size="4.6" fill="#d83042" text-anchor="middle" textLength="6.91" lengthAdjust="spacingAndGlyphs">0.0</text>
<text x="717.45" y="308.08" font-size="4.6" fill="#0a0a0a" text-anchor="middle" textLength="15.21" lengthAdjust="spacingAndGlyphs">0.0000</text>
<text x="735.50" y="308.08" font-size="4.6" fill="#0a0a0a" text-anchor="middle" textLength="6.91" lengthAdjust="spacingAndGlyphs">0.0</text>
<text x="25.20" y="316.71" font-size="4.9" fill="#000" text-anchor="middle" textLength="5.53" lengthAdjust="spacingAndGlyphs" stroke="#000" stroke-width="0.06">33</text>
<text x="539.95" y="315.28" font-size="4.6" fill="#0a0a0a" text-anchor="middle" textLength="15.21" lengthAdjust="spacingAndGlyphs">0.0000</text>
<text x="568.55" y="315.28" font-size="4.6" fill="#0a0a0a" text-anchor="middle" textLength="15.21" lengthAdjust="spacingAndGlyphs">0.0000</text>
<text x="598.10" y="315.28" font-size="4.6" fill="#0a0a0a" text-anchor="middle" textLength="15.21" lengthAdjust="spacingAndGlyphs">0.0000</text>
<text x="629.83" y="315.28" font-size="4.6" fill="#0a0a0a" text-anchor="middle" textLength="15.21" lengthAdjust="spacingAndGlyphs">0.0000</text>
<line x1="621.77" y1="314.18" x2="637.88" y2="314.18" stroke="#444" stroke-width="0.32"/>
<text x="661.03" y="315.48" font-size="4.6" fill="#d83042" text-anchor="middle" textLength="6.91" lengthAdjust="spacingAndGlyphs">0.0</text>
<line x1="657.12" y1="314.38" x2="664.93" y2="314.38" stroke="#d83042" stroke-width="0.32"/>
<text x="676.58" y="315.48" font-size="4.6" fill="#d83042" text-anchor="middle" textLength="6.91" lengthAdjust="spacingAndGlyphs">0.0</text>
<line x1="672.67" y1="314.38" x2="680.48" y2="314.38" stroke="#d83042" stroke-width="0.32"/>
<text x="695.60" y="315.48" font-size="4.6" fill="#d83042" text-anchor="middle" textLength="6.91" lengthAdjust="spacingAndGlyphs">0.0</text>
<text x="717.45" y="315.28" font-size="4.6" fill="#0a0a0a" text-anchor="middle" textLength="15.21" lengthAdjust="spacingAndGlyphs">0.0000</text>
<text x="735.50" y="315.28" font-size="4.6" fill="#0a0a0a" text-anchor="middle" textLength="6.91" lengthAdjust="spacingAndGlyphs">0.0</text>
<text x="25.20" y="323.91" font-size="4.9" fill="#000" text-anchor="middle" textLength="5.53" lengthAdjust="spacingAndGlyphs" stroke="#000" stroke-width="0.06">34</text>
<text x="539.95" y="323.61" font-size="4.6" fill="#0a0a0a" text-anchor="middle" textLength="15.21" lengthAdjust="spacingAndGlyphs">0.0000</text>
<text x="568.55" y="323.61" font-size="4.6" fill="#0a0a0a" text-anchor="middle" textLength="15.21" lengthAdjust="spacingAndGlyphs">0.0000</text>
<text x="598.10" y="323.61" font-size="4.6" fill="#0a0a0a" text-anchor="middle" textLength="15.21" lengthAdjust="spacingAndGlyphs">0.0000</text>
<text x="629.83" y="323.61" font-size="4.6" fill="#0a0a0a" text-anchor="middle" textLength="15.21" lengthAdjust="spacingAndGlyphs">0.0000</text>
<line x1="621.77" y1="322.51" x2="637.88" y2="322.51" stroke="#444" stroke-width="0.32"/>
<text x="661.03" y="323.81" font-size="4.6" fill="#d83042" text-anchor="middle" textLength="6.91" lengthAdjust="spacingAndGlyphs">0.0</text>
<line x1="657.12" y1="322.71" x2="664.93" y2="322.71" stroke="#d83042" stroke-width="0.32"/>
<text x="676.58" y="323.81" font-size="4.6" fill="#d83042" text-anchor="middle" textLength="6.91" lengthAdjust="spacingAndGlyphs">0.0</text>
<line x1="672.67" y1="322.71" x2="680.48" y2="322.71" stroke="#d83042" stroke-width="0.32"/>
<text x="695.60" y="323.81" font-size="4.6" fill="#d83042" text-anchor="middle" textLength="6.91" lengthAdjust="spacingAndGlyphs">0.0</text>
<text x="717.45" y="323.61" font-size="4.6" fill="#0a0a0a" text-anchor="middle" textLength="15.21" lengthAdjust="spacingAndGlyphs">0.0000</text>
<text x="735.50" y="323.61" font-size="4.6" fill="#0a0a0a" text-anchor="middle" textLength="6.91" lengthAdjust="spacingAndGlyphs">0.0</text>
<text x="25.20" y="332.24" font-size="4.9" fill="#000" text-anchor="middle" textLength="5.53" lengthAdjust="spacingAndGlyphs" stroke="#000" stroke-width="0.06">35</text>
<text x="539.95" y="330.81" font-size="4.6" fill="#0a0a0a" text-anchor="middle" textLength="15.21" lengthAdjust="spacingAndGlyphs">0.0000</text>
<text x="568.55" y="330.81" font-size="4.6" fill="#0a0a0a" text-anchor="middle" textLength="15.21" lengthAdjust="spacingAndGlyphs">0.0000</text>
<text x="598.10" y="330.81" font-size="4.6" fill="#0a0a0a" text-anchor="middle" textLength="15.21" lengthAdjust="spacingAndGlyphs">0.0000</text>
<text x="629.83" y="330.81" font-size="4.6" fill="#0a0a0a" text-anchor="middle" textLength="15.21" lengthAdjust="spacingAndGlyphs">0.0000</text>
<line x1="621.77" y1="329.71" x2="637.88" y2="329.71" stroke="#444" stroke-width="0.32"/>
<text x="676.58" y="331.01" font-size="4.6" fill="#d83042" text-anchor="middle" textLength="6.91" lengthAdjust="spacingAndGlyphs">0.0</text>
<line x1="672.67" y1="329.91" x2="680.48" y2="329.91" stroke="#d83042" stroke-width="0.32"/>
<text x="695.60" y="331.01" font-size="4.6" fill="#d83042" text-anchor="middle" textLength="6.91" lengthAdjust="spacingAndGlyphs">0.0</text>
<text x="717.45" y="330.81" font-size="4.6" fill="#0a0a0a" text-anchor="middle" textLength="15.21" lengthAdjust="spacingAndGlyphs">0.0000</text>
<text x="735.50" y="330.81" font-size="4.6" fill="#0a0a0a" text-anchor="middle" textLength="6.91" lengthAdjust="spacingAndGlyphs">0.0</text>
<text x="25.20" y="339.44" font-size="4.9" fill="#000" text-anchor="middle" textLength="5.53" lengthAdjust="spacingAndGlyphs" stroke="#000" stroke-width="0.06">36</text>
<text x="539.95" y="339.14" font-size="4.6" fill="#0a0a0a" text-anchor="middle" textLength="15.21" lengthAdjust="spacingAndGlyphs">0.0000</text>
<text x="568.55" y="339.14" font-size="4.6" fill="#0a0a0a" text-anchor="middle" textLength="15.21" lengthAdjust="spacingAndGlyphs">0.0000</text>
<text x="598.10" y="339.14" font-size="4.6" fill="#0a0a0a" text-anchor="middle" textLength="15.21" lengthAdjust="spacingAndGlyphs">0.0000</text>
<text x="629.83" y="339.14" font-size="4.6" fill="#0a0a0a" text-anchor="middle" textLength="15.21" lengthAdjust="spacingAndGlyphs">0.0000</text>
<line x1="621.77" y1="338.04" x2="637.88" y2="338.04" stroke="#444" stroke-width="0.32"/>
<text x="676.58" y="339.34" font-size="4.6" fill="#d83042" text-anchor="middle" textLength="6.91" lengthAdjust="spacingAndGlyphs">0.0</text>
<line x1="672.67" y1="338.24" x2="680.48" y2="338.24" stroke="#d83042" stroke-width="0.32"/>
<text x="695.60" y="339.34" font-size="4.6" fill="#d83042" text-anchor="middle" textLength="6.91" lengthAdjust="spacingAndGlyphs">0.0</text>
<text x="717.45" y="339.14" font-size="4.6" fill="#0a0a0a" text-anchor="middle" textLength="15.21" lengthAdjust="spacingAndGlyphs">0.0000</text>
<text x="735.50" y="339.14" font-size="4.6" fill="#0a0a0a" text-anchor="middle" textLength="6.91" lengthAdjust="spacingAndGlyphs">0.0</text>
<text x="25.20" y="347.77" font-size="4.9" fill="#000" text-anchor="middle" textLength="5.53" lengthAdjust="spacingAndGlyphs" stroke="#000" stroke-width="0.06">37</text>
<text x="539.95" y="346.34" font-size="4.6" fill="#0a0a0a" text-anchor="middle" textLength="15.21" lengthAdjust="spacingAndGlyphs">0.0000</text>
<text x="568.55" y="346.34" font-size="4.6" fill="#0a0a0a" text-anchor="middle" textLength="15.21" lengthAdjust="spacingAndGlyphs">0.0000</text>
<text x="598.10" y="346.34" font-size="4.6" fill="#0a0a0a" text-anchor="middle" textLength="15.21" lengthAdjust="spacingAndGlyphs">0.0000</text>
<text x="629.83" y="346.34" font-size="4.6" fill="#0a0a0a" text-anchor="middle" textLength="15.21" lengthAdjust="spacingAndGlyphs">0.0000</text>
<line x1="621.77" y1="345.24" x2="637.88" y2="345.24" stroke="#444" stroke-width="0.32"/>
<text x="661.03" y="346.54" font-size="4.6" fill="#d83042" text-anchor="middle" textLength="6.91" lengthAdjust="spacingAndGlyphs">0.0</text>
<line x1="657.12" y1="345.44" x2="664.93" y2="345.44" stroke="#d83042" stroke-width="0.32"/>
<text x="676.58" y="346.54" font-size="4.6" fill="#d83042" text-anchor="middle" textLength="6.91" lengthAdjust="spacingAndGlyphs">0.0</text>
<line x1="672.67" y1="345.44" x2="680.48" y2="345.44" stroke="#d83042" stroke-width="0.32"/>
<text x="695.60" y="346.54" font-size="4.6" fill="#d83042" text-anchor="middle" textLength="6.91" lengthAdjust="spacingAndGlyphs">0.0</text>
<text x="717.45" y="346.34" font-size="4.6" fill="#0a0a0a" text-anchor="middle" textLength="15.21" lengthAdjust="spacingAndGlyphs">0.0000</text>
<text x="735.50" y="346.34" font-size="4.6" fill="#0a0a0a" text-anchor="middle" textLength="6.91" lengthAdjust="spacingAndGlyphs">0.0</text>
<text x="25.20" y="354.97" font-size="4.9" fill="#000" text-anchor="middle" textLength="5.53" lengthAdjust="spacingAndGlyphs" stroke="#000" stroke-width="0.06">38</text>
<text x="539.95" y="354.67" font-size="4.6" fill="#0a0a0a" text-anchor="middle" textLength="15.21" lengthAdjust="spacingAndGlyphs">0.0000</text>
<text x="568.55" y="354.67" font-size="4.6" fill="#0a0a0a" text-anchor="middle" textLength="15.21" lengthAdjust="spacingAndGlyphs">0.0000</text>
<text x="598.10" y="354.67" font-size="4.6" fill="#0a0a0a" text-anchor="middle" textLength="15.21" lengthAdjust="spacingAndGlyphs">0.0000</text>
<text x="629.83" y="354.67" font-size="4.6" fill="#0a0a0a" text-anchor="middle" textLength="15.21" lengthAdjust="spacingAndGlyphs">0.0000</text>
<line x1="621.77" y1="353.57" x2="637.88" y2="353.57" stroke="#444" stroke-width="0.32"/>
<text x="661.03" y="354.87" font-size="4.6" fill="#d83042" text-anchor="middle" textLength="6.91" lengthAdjust="spacingAndGlyphs">0.0</text>
<line x1="657.12" y1="353.77" x2="664.93" y2="353.77" stroke="#d83042" stroke-width="0.32"/>
<text x="676.58" y="354.87" font-size="4.6" fill="#d83042" text-anchor="middle" textLength="6.91" lengthAdjust="spacingAndGlyphs">0.0</text>
<line x1="672.67" y1="353.77" x2="680.48" y2="353.77" stroke="#d83042" stroke-width="0.32"/>
<text x="695.60" y="354.87" font-size="4.6" fill="#d83042" text-anchor="middle" textLength="6.91" lengthAdjust="spacingAndGlyphs">0.0</text>
<text x="717.45" y="354.67" font-size="4.6" fill="#0a0a0a" text-anchor="middle" textLength="15.21" lengthAdjust="spacingAndGlyphs">0.0000</text>
<text x="735.50" y="354.67" font-size="4.6" fill="#0a0a0a" text-anchor="middle" textLength="6.91" lengthAdjust="spacingAndGlyphs">0.0</text>
<text x="25.20" y="363.30" font-size="4.9" fill="#000" text-anchor="middle" textLength="5.53" lengthAdjust="spacingAndGlyphs" stroke="#000" stroke-width="0.06">39</text>
<text x="539.95" y="361.87" font-size="4.6" fill="#0a0a0a" text-anchor="middle" textLength="15.21" lengthAdjust="spacingAndGlyphs">0.0000</text>
<text x="568.55" y="361.87" font-size="4.6" fill="#0a0a0a" text-anchor="middle" textLength="15.21" lengthAdjust="spacingAndGlyphs">0.0000</text>
<text x="598.10" y="361.87" font-size="4.6" fill="#0a0a0a" text-anchor="middle" textLength="15.21" lengthAdjust="spacingAndGlyphs">0.0000</text>
<text x="629.83" y="361.87" font-size="4.6" fill="#0a0a0a" text-anchor="middle" textLength="15.21" lengthAdjust="spacingAndGlyphs">0.0000</text>
<line x1="621.77" y1="360.77" x2="637.88" y2="360.77" stroke="#444" stroke-width="0.32"/>
<text x="661.03" y="362.07" font-size="4.6" fill="#d83042" text-anchor="middle" textLength="6.91" lengthAdjust="spacingAndGlyphs">0.0</text>
<line x1="657.12" y1="360.97" x2="664.93" y2="360.97" stroke="#d83042" stroke-width="0.32"/>
<text x="676.58" y="362.07" font-size="4.6" fill="#d83042" text-anchor="middle" textLength="6.91" lengthAdjust="spacingAndGlyphs">0.0</text>
<line x1="672.67" y1="360.97" x2="680.48" y2="360.97" stroke="#d83042" stroke-width="0.32"/>
<text x="695.60" y="362.07" font-size="4.6" fill="#d83042" text-anchor="middle" textLength="6.91" lengthAdjust="spacingAndGlyphs">0.0</text>
<text x="717.45" y="361.87" font-size="4.6" fill="#0a0a0a" text-anchor="middle" textLength="15.21" lengthAdjust="spacingAndGlyphs">0.0000</text>
<text x="735.50" y="361.87" font-size="4.6" fill="#0a0a0a" text-anchor="middle" textLength="6.91" lengthAdjust="spacingAndGlyphs">0.0</text>
<text x="25.20" y="370.50" font-size="4.9" fill="#000" text-anchor="middle" textLength="5.53" lengthAdjust="spacingAndGlyphs" stroke="#000" stroke-width="0.06">40</text>
<text x="539.95" y="370.20" font-size="4.6" fill="#0a0a0a" text-anchor="middle" textLength="15.21" lengthAdjust="spacingAndGlyphs">0.0000</text>
<text x="568.55" y="370.20" font-size="4.6" fill="#0a0a0a" text-anchor="middle" textLength="15.21" lengthAdjust="spacingAndGlyphs">0.0000</text>
<text x="598.10" y="370.20" font-size="4.6" fill="#0a0a0a" text-anchor="middle" textLength="15.21" lengthAdjust="spacingAndGlyphs">0.0000</text>
<text x="629.83" y="370.20" font-size="4.6" fill="#0a0a0a" text-anchor="middle" textLength="15.21" lengthAdjust="spacingAndGlyphs">0.0000</text>
<line x1="621.77" y1="369.10" x2="637.88" y2="369.10" stroke="#444" stroke-width="0.32"/>
<text x="661.03" y="370.40" font-size="4.6" fill="#d83042" text-anchor="middle" textLength="6.91" lengthAdjust="spacingAndGlyphs">0.0</text>
<line x1="657.12" y1="369.30" x2="664.93" y2="369.30" stroke="#d83042" stroke-width="0.32"/>
<text x="676.58" y="370.40" font-size="4.6" fill="#d83042" text-anchor="middle" textLength="6.91" lengthAdjust="spacingAndGlyphs">0.0</text>
<line x1="672.67" y1="369.30" x2="680.48" y2="369.30" stroke="#d83042" stroke-width="0.32"/>
<text x="695.60" y="370.40" font-size="4.6" fill="#d83042" text-anchor="middle" textLength="6.91" lengthAdjust="spacingAndGlyphs">0.0</text>
<text x="717.45" y="370.20" font-size="4.6" fill="#0a0a0a" text-anchor="middle" textLength="15.21" lengthAdjust="spacingAndGlyphs">0.0000</text>
<text x="735.50" y="370.20" font-size="4.6" fill="#0a0a0a" text-anchor="middle" textLength="6.91" lengthAdjust="spacingAndGlyphs">0.0</text>
<text x="25.20" y="378.83" font-size="4.9" fill="#000" text-anchor="middle" textLength="5.53" lengthAdjust="spacingAndGlyphs" stroke="#000" stroke-width="0.06">41</text>
<text x="539.95" y="377.40" font-size="4.6" fill="#0a0a0a" text-anchor="middle" textLength="15.21" lengthAdjust="spacingAndGlyphs">0.0000</text>
<text x="568.55" y="377.40" font-size="4.6" fill="#0a0a0a" text-anchor="middle" textLength="15.21" lengthAdjust="spacingAndGlyphs">0.0000</text>
<text x="598.10" y="377.40" font-size="4.6" fill="#0a0a0a" text-anchor="middle" textLength="15.21" lengthAdjust="spacingAndGlyphs">0.0000</text>
<text x="629.83" y="377.40" font-size="4.6" fill="#0a0a0a" text-anchor="middle" textLength="15.21" lengthAdjust="spacingAndGlyphs">0.0000</text>
<line x1="621.77" y1="376.30" x2="637.88" y2="376.30" stroke="#444" stroke-width="0.32"/>
<text x="661.03" y="377.60" font-size="4.6" fill="#d83042" text-anchor="middle" textLength="6.91" lengthAdjust="spacingAndGlyphs">0.0</text>
<line x1="657.12" y1="376.50" x2="664.93" y2="376.50" stroke="#d83042" stroke-width="0.32"/>
<text x="676.58" y="377.60" font-size="4.6" fill="#d83042" text-anchor="middle" textLength="6.91" lengthAdjust="spacingAndGlyphs">0.0</text>
<line x1="672.67" y1="376.50" x2="680.48" y2="376.50" stroke="#d83042" stroke-width="0.32"/>
<text x="695.60" y="377.60" font-size="4.6" fill="#d83042" text-anchor="middle" textLength="6.91" lengthAdjust="spacingAndGlyphs">0.0</text>
<text x="717.45" y="377.40" font-size="4.6" fill="#0a0a0a" text-anchor="middle" textLength="15.21" lengthAdjust="spacingAndGlyphs">0.0000</text>
<text x="735.50" y="377.40" font-size="4.6" fill="#0a0a0a" text-anchor="middle" textLength="6.91" lengthAdjust="spacingAndGlyphs">0.0</text>
<text x="25.20" y="386.03" font-size="4.9" fill="#000" text-anchor="middle" textLength="5.53" lengthAdjust="spacingAndGlyphs" stroke="#000" stroke-width="0.06">42</text>
<text x="539.95" y="385.73" font-size="4.6" fill="#0a0a0a" text-anchor="middle" textLength="15.21" lengthAdjust="spacingAndGlyphs">0.0000</text>
<text x="568.55" y="385.73" font-size="4.6" fill="#0a0a0a" text-anchor="middle" textLength="15.21" lengthAdjust="spacingAndGlyphs">0.0000</text>
<text x="598.10" y="385.73" font-size="4.6" fill="#0a0a0a" text-anchor="middle" textLength="15.21" lengthAdjust="spacingAndGlyphs">0.0000</text>
<text x="629.83" y="385.73" font-size="4.6" fill="#0a0a0a" text-anchor="middle" textLength="15.21" lengthAdjust="spacingAndGlyphs">0.0000</text>
<line x1="621.77" y1="384.63" x2="637.88" y2="384.63" stroke="#444" stroke-width="0.32"/>
<text x="661.03" y="385.93" font-size="4.6" fill="#d83042" text-anchor="middle" textLength="6.91" lengthAdjust="spacingAndGlyphs">0.0</text>
<line x1="657.12" y1="384.83" x2="664.93" y2="384.83" stroke="#d83042" stroke-width="0.32"/>
<text x="676.58" y="385.93" font-size="4.6" fill="#d83042" text-anchor="middle" textLength="6.91" lengthAdjust="spacingAndGlyphs">0.0</text>
<line x1="672.67" y1="384.83" x2="680.48" y2="384.83" stroke="#d83042" stroke-width="0.32"/>
<text x="695.60" y="385.93" font-size="4.6" fill="#d83042" text-anchor="middle" textLength="6.91" lengthAdjust="spacingAndGlyphs">0.0</text>
<text x="717.45" y="385.73" font-size="4.6" fill="#0a0a0a" text-anchor="middle" textLength="15.21" lengthAdjust="spacingAndGlyphs">0.0000</text>
<text x="735.50" y="385.73" font-size="4.6" fill="#0a0a0a" text-anchor="middle" textLength="6.91" lengthAdjust="spacingAndGlyphs">0.0</text>
<text x="25.20" y="394.36" font-size="4.9" fill="#000" text-anchor="middle" textLength="5.53" lengthAdjust="spacingAndGlyphs" stroke="#000" stroke-width="0.06">43</text>
<text x="539.95" y="392.93" font-size="4.6" fill="#0a0a0a" text-anchor="middle" textLength="15.21" lengthAdjust="spacingAndGlyphs">0.0000</text>
<text x="568.55" y="392.93" font-size="4.6" fill="#0a0a0a" text-anchor="middle" textLength="15.21" lengthAdjust="spacingAndGlyphs">0.0000</text>
<text x="598.10" y="392.93" font-size="4.6" fill="#0a0a0a" text-anchor="middle" textLength="15.21" lengthAdjust="spacingAndGlyphs">0.0000</text>
<text x="629.83" y="392.93" font-size="4.6" fill="#0a0a0a" text-anchor="middle" textLength="15.21" lengthAdjust="spacingAndGlyphs">0.0000</text>
<line x1="621.77" y1="391.83" x2="637.88" y2="391.83" stroke="#444" stroke-width="0.32"/>
<text x="661.03" y="393.13" font-size="4.6" fill="#d83042" text-anchor="middle" textLength="6.91" lengthAdjust="spacingAndGlyphs">0.0</text>
<line x1="657.12" y1="392.03" x2="664.93" y2="392.03" stroke="#d83042" stroke-width="0.32"/>
<text x="676.58" y="393.13" font-size="4.6" fill="#d83042" text-anchor="middle" textLength="6.91" lengthAdjust="spacingAndGlyphs">0.0</text>
<line x1="672.67" y1="392.03" x2="680.48" y2="392.03" stroke="#d83042" stroke-width="0.32"/>
<text x="695.60" y="393.13" font-size="4.6" fill="#d83042" text-anchor="middle" textLength="6.91" lengthAdjust="spacingAndGlyphs">0.0</text>
<text x="717.45" y="392.93" font-size="4.6" fill="#0a0a0a" text-anchor="middle" textLength="15.21" lengthAdjust="spacingAndGlyphs">0.0000</text>
<text x="735.50" y="392.93" font-size="4.6" fill="#0a0a0a" text-anchor="middle" textLength="6.91" lengthAdjust="spacingAndGlyphs">0.0</text>
<text x="25.20" y="401.56" font-size="4.9" fill="#000" text-anchor="middle" textLength="5.53" lengthAdjust="spacingAndGlyphs" stroke="#000" stroke-width="0.06">44</text>
<text x="539.95" y="401.26" font-size="4.6" fill="#0a0a0a" text-anchor="middle" textLength="15.21" lengthAdjust="spacingAndGlyphs">0.0000</text>
<text x="568.55" y="401.26" font-size="4.6" fill="#0a0a0a" text-anchor="middle" textLength="15.21" lengthAdjust="spacingAndGlyphs">0.0000</text>
<text x="598.10" y="401.26" font-size="4.6" fill="#0a0a0a" text-anchor="middle" textLength="15.21" lengthAdjust="spacingAndGlyphs">0.0000</text>
<text x="629.83" y="401.26" font-size="4.6" fill="#0a0a0a" text-anchor="middle" textLength="15.21" lengthAdjust="spacingAndGlyphs">0.0000</text>
<line x1="621.77" y1="400.16" x2="637.88" y2="400.16" stroke="#444" stroke-width="0.32"/>
<text x="661.03" y="401.46" font-size="4.6" fill="#d83042" text-anchor="middle" textLength="6.91" lengthAdjust="spacingAndGlyphs">0.0</text>
<line x1="657.12" y1="400.36" x2="664.93" y2="400.36" stroke="#d83042" stroke-width="0.32"/>
<text x="676.58" y="401.46" font-size="4.6" fill="#d83042" text-anchor="middle" textLength="6.91" lengthAdjust="spacingAndGlyphs">0.0</text>
<line x1="672.67" y1="400.36" x2="680.48" y2="400.36" stroke="#d83042" stroke-width="0.32"/>
<text x="695.60" y="401.46" font-size="4.6" fill="#d83042" text-anchor="middle" textLength="6.91" lengthAdjust="spacingAndGlyphs">0.0</text>
<text x="717.45" y="401.26" font-size="4.6" fill="#0a0a0a" text-anchor="middle" textLength="15.21" lengthAdjust="spacingAndGlyphs">0.0000</text>
<text x="735.50" y="401.26" font-size="4.6" fill="#0a0a0a" text-anchor="middle" textLength="6.91" lengthAdjust="spacingAndGlyphs">0.0</text>
<text x="25.20" y="409.89" font-size="4.9" fill="#000" text-anchor="middle" textLength="5.53" lengthAdjust="spacingAndGlyphs" stroke="#000" stroke-width="0.06">45</text>
<text x="539.95" y="408.46" font-size="4.6" fill="#0a0a0a" text-anchor="middle" textLength="15.21" lengthAdjust="spacingAndGlyphs">0.0000</text>
<text x="568.55" y="408.46" font-size="4.6" fill="#0a0a0a" text-anchor="middle" textLength="15.21" lengthAdjust="spacingAndGlyphs">0.0000</text>
<text x="598.10" y="408.46" font-size="4.6" fill="#0a0a0a" text-anchor="middle" textLength="15.21" lengthAdjust="spacingAndGlyphs">0.0000</text>
<text x="629.83" y="408.46" font-size="4.6" fill="#0a0a0a" text-anchor="middle" textLength="15.21" lengthAdjust="spacingAndGlyphs">0.0000</text>
<line x1="621.77" y1="407.36" x2="637.88" y2="407.36" stroke="#444" stroke-width="0.32"/>
<text x="661.03" y="408.66" font-size="4.6" fill="#d83042" text-anchor="middle" textLength="6.91" lengthAdjust="spacingAndGlyphs">0.0</text>
<line x1="657.12" y1="407.56" x2="664.93" y2="407.56" stroke="#d83042" stroke-width="0.32"/>
<text x="676.58" y="408.66" font-size="4.6" fill="#d83042" text-anchor="middle" textLength="6.91" lengthAdjust="spacingAndGlyphs">0.0</text>
<line x1="672.67" y1="407.56" x2="680.48" y2="407.56" stroke="#d83042" stroke-width="0.32"/>
<text x="695.60" y="408.66" font-size="4.6" fill="#d83042" text-anchor="middle" textLength="6.91" lengthAdjust="spacingAndGlyphs">0.0</text>
<text x="717.45" y="408.46" font-size="4.6" fill="#0a0a0a" text-anchor="middle" textLength="15.21" lengthAdjust="spacingAndGlyphs">0.0000</text>
<text x="735.50" y="408.46" font-size="4.6" fill="#0a0a0a" text-anchor="middle" textLength="6.91" lengthAdjust="spacingAndGlyphs">0.0</text>
<text x="25.20" y="417.09" font-size="4.9" fill="#000" text-anchor="middle" textLength="5.53" lengthAdjust="spacingAndGlyphs" stroke="#000" stroke-width="0.06">46</text>
<text x="539.95" y="416.79" font-size="4.6" fill="#0a0a0a" text-anchor="middle" textLength="15.21" lengthAdjust="spacingAndGlyphs">0.0000</text>
<text x="568.55" y="416.79" font-size="4.6" fill="#0a0a0a" text-anchor="middle" textLength="15.21" lengthAdjust="spacingAndGlyphs">0.0000</text>
<text x="598.10" y="416.79" font-size="4.6" fill="#0a0a0a" text-anchor="middle" textLength="15.21" lengthAdjust="spacingAndGlyphs">0.0000</text>
<text x="629.83" y="416.79" font-size="4.6" fill="#0a0a0a" text-anchor="middle" textLength="15.21" lengthAdjust="spacingAndGlyphs">0.0000</text>
<line x1="621.77" y1="415.69" x2="637.88" y2="415.69" stroke="#444" stroke-width="0.32"/>
<text x="661.03" y="416.99" font-size="4.6" fill="#d83042" text-anchor="middle" textLength="6.91" lengthAdjust="spacingAndGlyphs">0.0</text>
<line x1="657.12" y1="415.89" x2="664.93" y2="415.89" stroke="#d83042" stroke-width="0.32"/>
<text x="676.58" y="416.99" font-size="4.6" fill="#d83042" text-anchor="middle" textLength="6.91" lengthAdjust="spacingAndGlyphs">0.0</text>
<line x1="672.67" y1="415.89" x2="680.48" y2="415.89" stroke="#d83042" stroke-width="0.32"/>
<text x="695.60" y="416.99" font-size="4.6" fill="#d83042" text-anchor="middle" textLength="6.91" lengthAdjust="spacingAndGlyphs">0.0</text>
<text x="717.45" y="416.79" font-size="4.6" fill="#0a0a0a" text-anchor="middle" textLength="15.21" lengthAdjust="spacingAndGlyphs">0.0000</text>
<text x="735.50" y="416.79" font-size="4.6" fill="#0a0a0a" text-anchor="middle" textLength="6.91" lengthAdjust="spacingAndGlyphs">0.0</text>
<text x="25.20" y="425.42" font-size="4.9" fill="#000" text-anchor="middle" textLength="5.53" lengthAdjust="spacingAndGlyphs" stroke="#000" stroke-width="0.06">47</text>
<text x="539.95" y="423.99" font-size="4.6" fill="#0a0a0a" text-anchor="middle" textLength="15.21" lengthAdjust="spacingAndGlyphs">0.0000</text>
<text x="568.55" y="423.99" font-size="4.6" fill="#0a0a0a" text-anchor="middle" textLength="15.21" lengthAdjust="spacingAndGlyphs">0.0000</text>
<text x="598.10" y="423.99" font-size="4.6" fill="#0a0a0a" text-anchor="middle" textLength="15.21" lengthAdjust="spacingAndGlyphs">0.0000</text>
<text x="629.83" y="423.99" font-size="4.6" fill="#0a0a0a" text-anchor="middle" textLength="15.21" lengthAdjust="spacingAndGlyphs">0.0000</text>
<line x1="621.77" y1="422.89" x2="637.88" y2="422.89" stroke="#444" stroke-width="0.32"/>
<text x="661.03" y="424.19" font-size="4.6" fill="#d83042" text-anchor="middle" textLength="6.91" lengthAdjust="spacingAndGlyphs">0.0</text>
<line x1="657.12" y1="423.09" x2="664.93" y2="423.09" stroke="#d83042" stroke-width="0.32"/>
<text x="676.58" y="424.19" font-size="4.6" fill="#d83042" text-anchor="middle" textLength="6.91" lengthAdjust="spacingAndGlyphs">0.0</text>
<line x1="672.67" y1="423.09" x2="680.48" y2="423.09" stroke="#d83042" stroke-width="0.32"/>
<text x="695.60" y="424.19" font-size="4.6" fill="#d83042" text-anchor="middle" textLength="6.91" lengthAdjust="spacingAndGlyphs">0.0</text>
<text x="717.45" y="423.99" font-size="4.6" fill="#0a0a0a" text-anchor="middle" textLength="15.21" lengthAdjust="spacingAndGlyphs">0.0000</text>
<text x="735.50" y="423.99" font-size="4.6" fill="#0a0a0a" text-anchor="middle" textLength="6.91" lengthAdjust="spacingAndGlyphs">0.0</text>
<text x="25.20" y="432.62" font-size="4.9" fill="#000" text-anchor="middle" textLength="5.53" lengthAdjust="spacingAndGlyphs" stroke="#000" stroke-width="0.06">48</text>
<text x="539.95" y="432.32" font-size="4.6" fill="#0a0a0a" text-anchor="middle" textLength="15.21" lengthAdjust="spacingAndGlyphs">0.0000</text>
<text x="568.55" y="432.32" font-size="4.6" fill="#0a0a0a" text-anchor="middle" textLength="15.21" lengthAdjust="spacingAndGlyphs">0.0000</text>
<text x="598.10" y="432.32" font-size="4.6" fill="#0a0a0a" text-anchor="middle" textLength="15.21" lengthAdjust="spacingAndGlyphs">0.0000</text>
<text x="629.83" y="432.32" font-size="4.6" fill="#0a0a0a" text-anchor="middle" textLength="15.21" lengthAdjust="spacingAndGlyphs">0.0000</text>
<line x1="621.77" y1="431.22" x2="637.88" y2="431.22" stroke="#444" stroke-width="0.32"/>
<text x="661.03" y="432.52" font-size="4.6" fill="#d83042" text-anchor="middle" textLength="6.91" lengthAdjust="spacingAndGlyphs">0.0</text>
<line x1="657.12" y1="431.42" x2="664.93" y2="431.42" stroke="#d83042" stroke-width="0.32"/>
<text x="676.58" y="432.52" font-size="4.6" fill="#d83042" text-anchor="middle" textLength="6.91" lengthAdjust="spacingAndGlyphs">0.0</text>
<line x1="672.67" y1="431.42" x2="680.48" y2="431.42" stroke="#d83042" stroke-width="0.32"/>
<text x="695.60" y="432.52" font-size="4.6" fill="#d83042" text-anchor="middle" textLength="6.91" lengthAdjust="spacingAndGlyphs">0.0</text>
<text x="717.45" y="432.32" font-size="4.6" fill="#0a0a0a" text-anchor="middle" textLength="15.21" lengthAdjust="spacingAndGlyphs">0.0000</text>
<text x="735.50" y="432.32" font-size="4.6" fill="#0a0a0a" text-anchor="middle" textLength="6.91" lengthAdjust="spacingAndGlyphs">0.0</text>
<text x="25.20" y="440.95" font-size="4.9" fill="#000" text-anchor="middle" textLength="5.53" lengthAdjust="spacingAndGlyphs" stroke="#000" stroke-width="0.06">49</text>
<text x="539.95" y="439.52" font-size="4.6" fill="#0a0a0a" text-anchor="middle" textLength="15.21" lengthAdjust="spacingAndGlyphs">0.0000</text>
<text x="568.55" y="439.52" font-size="4.6" fill="#0a0a0a" text-anchor="middle" textLength="15.21" lengthAdjust="spacingAndGlyphs">0.0000</text>
<text x="598.10" y="439.52" font-size="4.6" fill="#0a0a0a" text-anchor="middle" textLength="15.21" lengthAdjust="spacingAndGlyphs">0.0000</text>
<text x="629.83" y="439.52" font-size="4.6" fill="#0a0a0a" text-anchor="middle" textLength="15.21" lengthAdjust="spacingAndGlyphs">0.0000</text>
<line x1="621.77" y1="438.42" x2="637.88" y2="438.42" stroke="#444" stroke-width="0.32"/>
<text x="661.03" y="439.72" font-size="4.6" fill="#d83042" text-anchor="middle" textLength="6.91" lengthAdjust="spacingAndGlyphs">0.0</text>
<line x1="657.12" y1="438.62" x2="664.93" y2="438.62" stroke="#d83042" stroke-width="0.32"/>
<text x="676.58" y="439.72" font-size="4.6" fill="#d83042" text-anchor="middle" textLength="6.91" lengthAdjust="spacingAndGlyphs">0.0</text>
<line x1="672.67" y1="438.62" x2="680.48" y2="438.62" stroke="#d83042" stroke-width="0.32"/>
<text x="695.60" y="439.72" font-size="4.6" fill="#d83042" text-anchor="middle" textLength="6.91" lengthAdjust="spacingAndGlyphs">0.0</text>
<text x="717.45" y="439.52" font-size="4.6" fill="#0a0a0a" text-anchor="middle" textLength="15.21" lengthAdjust="spacingAndGlyphs">0.0000</text>
<text x="735.50" y="439.52" font-size="4.6" fill="#0a0a0a" text-anchor="middle" textLength="6.91" lengthAdjust="spacingAndGlyphs">0.0</text>
<text x="25.20" y="449.00" font-size="4.9" fill="#000" text-anchor="middle" textLength="5.53" lengthAdjust="spacingAndGlyphs" stroke="#000" stroke-width="0.06">50</text>
<text x="539.95" y="447.85" font-size="4.6" fill="#0a0a0a" text-anchor="middle" textLength="15.21" lengthAdjust="spacingAndGlyphs">0.0000</text>
<text x="568.55" y="447.85" font-size="4.6" fill="#0a0a0a" text-anchor="middle" textLength="15.21" lengthAdjust="spacingAndGlyphs">0.0000</text>
<text x="598.10" y="447.85" font-size="4.6" fill="#0a0a0a" text-anchor="middle" textLength="15.21" lengthAdjust="spacingAndGlyphs">0.0000</text>
<text x="629.83" y="447.85" font-size="4.6" fill="#0a0a0a" text-anchor="middle" textLength="15.21" lengthAdjust="spacingAndGlyphs">0.0000</text>
<line x1="621.77" y1="446.75" x2="637.88" y2="446.75" stroke="#444" stroke-width="0.32"/>
<text x="661.03" y="448.05" font-size="4.6" fill="#d83042" text-anchor="middle" textLength="6.91" lengthAdjust="spacingAndGlyphs">0.0</text>
<line x1="657.12" y1="446.95" x2="664.93" y2="446.95" stroke="#d83042" stroke-width="0.32"/>
<text x="676.58" y="448.05" font-size="4.6" fill="#d83042" text-anchor="middle" textLength="6.91" lengthAdjust="spacingAndGlyphs">0.0</text>
<line x1="672.67" y1="446.95" x2="680.48" y2="446.95" stroke="#d83042" stroke-width="0.32"/>
<text x="695.60" y="448.05" font-size="4.6" fill="#d83042" text-anchor="middle" textLength="6.91" lengthAdjust="spacingAndGlyphs">0.0</text>
<text x="717.45" y="447.85" font-size="4.6" fill="#0a0a0a" text-anchor="middle" textLength="15.21" lengthAdjust="spacingAndGlyphs">0.0000</text>
<text x="735.50" y="447.85" font-size="4.6" fill="#0a0a0a" text-anchor="middle" textLength="6.91" lengthAdjust="spacingAndGlyphs">0.0</text>
<text x="539.95" y="455.90" font-size="4.6" fill="#0a0a0a" text-anchor="middle" textLength="15.21" lengthAdjust="spacingAndGlyphs">0.0000</text>
<text x="568.55" y="455.90" font-size="4.6" fill="#0a0a0a" text-anchor="middle" textLength="15.21" lengthAdjust="spacingAndGlyphs">0.0000</text>
<text x="598.10" y="455.90" font-size="4.6" fill="#0a0a0a" text-anchor="middle" textLength="15.21" lengthAdjust="spacingAndGlyphs">0.0000</text>
<text x="629.83" y="455.90" font-size="4.6" fill="#0a0a0a" text-anchor="middle" textLength="15.21" lengthAdjust="spacingAndGlyphs">0.0000</text>
<line x1="621.77" y1="454.80" x2="637.88" y2="454.80" stroke="#444" stroke-width="0.32"/>
<text x="539.95" y="463.10" font-size="4.6" fill="#0a0a0a" text-anchor="middle" textLength="15.21" lengthAdjust="spacingAndGlyphs">0.0000</text>
<text x="568.55" y="463.10" font-size="4.6" fill="#0a0a0a" text-anchor="middle" textLength="15.21" lengthAdjust="spacingAndGlyphs">0.0000</text>
<text x="598.10" y="463.10" font-size="4.6" fill="#0a0a0a" text-anchor="middle" textLength="15.21" lengthAdjust="spacingAndGlyphs">0.0000</text>
<text x="629.83" y="463.10" font-size="4.6" fill="#0a0a0a" text-anchor="middle" textLength="15.21" lengthAdjust="spacingAndGlyphs">0.0000</text>
<line x1="621.77" y1="462.00" x2="637.88" y2="462.00" stroke="#444" stroke-width="0.32"/>
<text x="539.95" y="471.40" font-size="4.6" fill="#0a0a0a" text-anchor="middle" textLength="15.21" lengthAdjust="spacingAndGlyphs">0.0000</text>
<text x="568.55" y="471.40" font-size="4.6" fill="#0a0a0a" text-anchor="middle" textLength="15.21" lengthAdjust="spacingAndGlyphs">0.0000</text>
<text x="598.10" y="471.40" font-size="4.6" fill="#0a0a0a" text-anchor="middle" textLength="15.21" lengthAdjust="spacingAndGlyphs">0.0000</text>
<text x="629.83" y="471.40" font-size="4.6" fill="#0a0a0a" text-anchor="middle" textLength="15.21" lengthAdjust="spacingAndGlyphs">0.0000</text>
<line x1="621.77" y1="470.30" x2="637.88" y2="470.30" stroke="#444" stroke-width="0.32"/>
<rect x="200.75" y="481.90" width="12.15" height="8.37" fill="#E36C0A"/>
<text x="199.90" y="487.90" font-size="4.62" fill="#111" text-anchor="end" textLength="24.82" lengthAdjust="spacingAndGlyphs" stroke="#111" stroke-width="0.07">JULIO 2020</text>
<rect x="200.75" y="490.25" width="12.15" height="8.17" fill="#974806"/>
<text x="199.90" y="495.10" font-size="4.62" fill="#111" text-anchor="end" textLength="31.28" lengthAdjust="spacingAndGlyphs" stroke="#111" stroke-width="0.07">AGOSTO 2020</text>
<rect x="200.75" y="498.40" width="12.15" height="8.22" fill="#92D050"/>
<text x="199.90" y="503.45" font-size="4.62" fill="#111" text-anchor="end" textLength="40.24" lengthAdjust="spacingAndGlyphs" stroke="#111" stroke-width="0.07">SEPTIEMBRE 2020</text>
<rect x="200.75" y="506.60" width="12.15" height="7.52" fill="#FF0066"/>
<text x="199.90" y="510.70" font-size="4.62" fill="#111" text-anchor="end" textLength="27.72" lengthAdjust="spacingAndGlyphs" stroke="#111" stroke-width="0.07">ENERO 2021</text>
<rect x="200.75" y="514.10" width="12.15" height="8.32" fill="#215868"/>
<text x="199.90" y="518.85" font-size="4.62" fill="#111" text-anchor="end" textLength="24.82" lengthAdjust="spacingAndGlyphs" stroke="#111" stroke-width="0.07">JULIO 2022</text>
<rect x="200.75" y="522.40" width="12.15" height="7.02" fill="#4F6228"/>
<text x="199.90" y="526.20" font-size="4.62" fill="#111" text-anchor="end" textLength="64.00" lengthAdjust="spacingAndGlyphs" stroke="#111" stroke-width="0.07">AGOSTO 2021 primera etapa</text>
<rect x="200.75" y="529.40" width="12.15" height="8.52" fill="#00FF00"/>
<rect x="200.75" y="537.90" width="12.15" height="6.92" fill="#4F81BD"/>
<text x="199.90" y="541.70" font-size="4.62" fill="#111" text-anchor="end" textLength="40.24" lengthAdjust="spacingAndGlyphs" stroke="#111" stroke-width="0.07">SEPTIEMBRE 2021</text>
<rect x="200.75" y="544.80" width="12.15" height="8.12" fill="#00B0F0"/>
<text x="199.90" y="549.60" font-size="4.62" fill="#111" text-anchor="end" textLength="27.72" lengthAdjust="spacingAndGlyphs" stroke="#111" stroke-width="0.07">ENERO 2022</text>
<rect x="200.75" y="560.75" width="12.15" height="8.17" fill="#C00000"/>
<text x="199.90" y="565.40" font-size="4.62" fill="#d8202c" text-anchor="end" textLength="38.32" lengthAdjust="spacingAndGlyphs" stroke="#d8202c" stroke-width="0.07">*Adeuda materia</text>
<rect x="200.75" y="568.90" width="12.15" height="7.18" fill="#49BDB0"/>
<text x="199.90" y="573.40" font-size="4.62" fill="#111" text-anchor="end" textLength="31.33" lengthAdjust="spacingAndGlyphs" stroke="#111" stroke-width="0.07">nuevo ingreso</text>
<rect x="200.75" y="576.06" width="12.15" height="8.16" fill="#003300"/>
<text x="199.90" y="581.06" font-size="4.62" fill="#111" text-anchor="end" textLength="11.03" lengthAdjust="spacingAndGlyphs" stroke="#111" stroke-width="0.07">BAJA</text>
<rect x="200.75" y="584.20" width="12.15" height="7.22" fill="#FFFF66"/>
<text x="199.90" y="589.40" font-size="4.62" fill="#111" text-anchor="end" textLength="42.64" lengthAdjust="spacingAndGlyphs" stroke="#111" stroke-width="0.07">TURNO MATUTINO</text>
<text x="258.90" y="549.90" font-size="4.62" fill="#0a0a0a" textLength="3.16" lengthAdjust="spacingAndGlyphs">A</text>
</svg>
</body></html>
